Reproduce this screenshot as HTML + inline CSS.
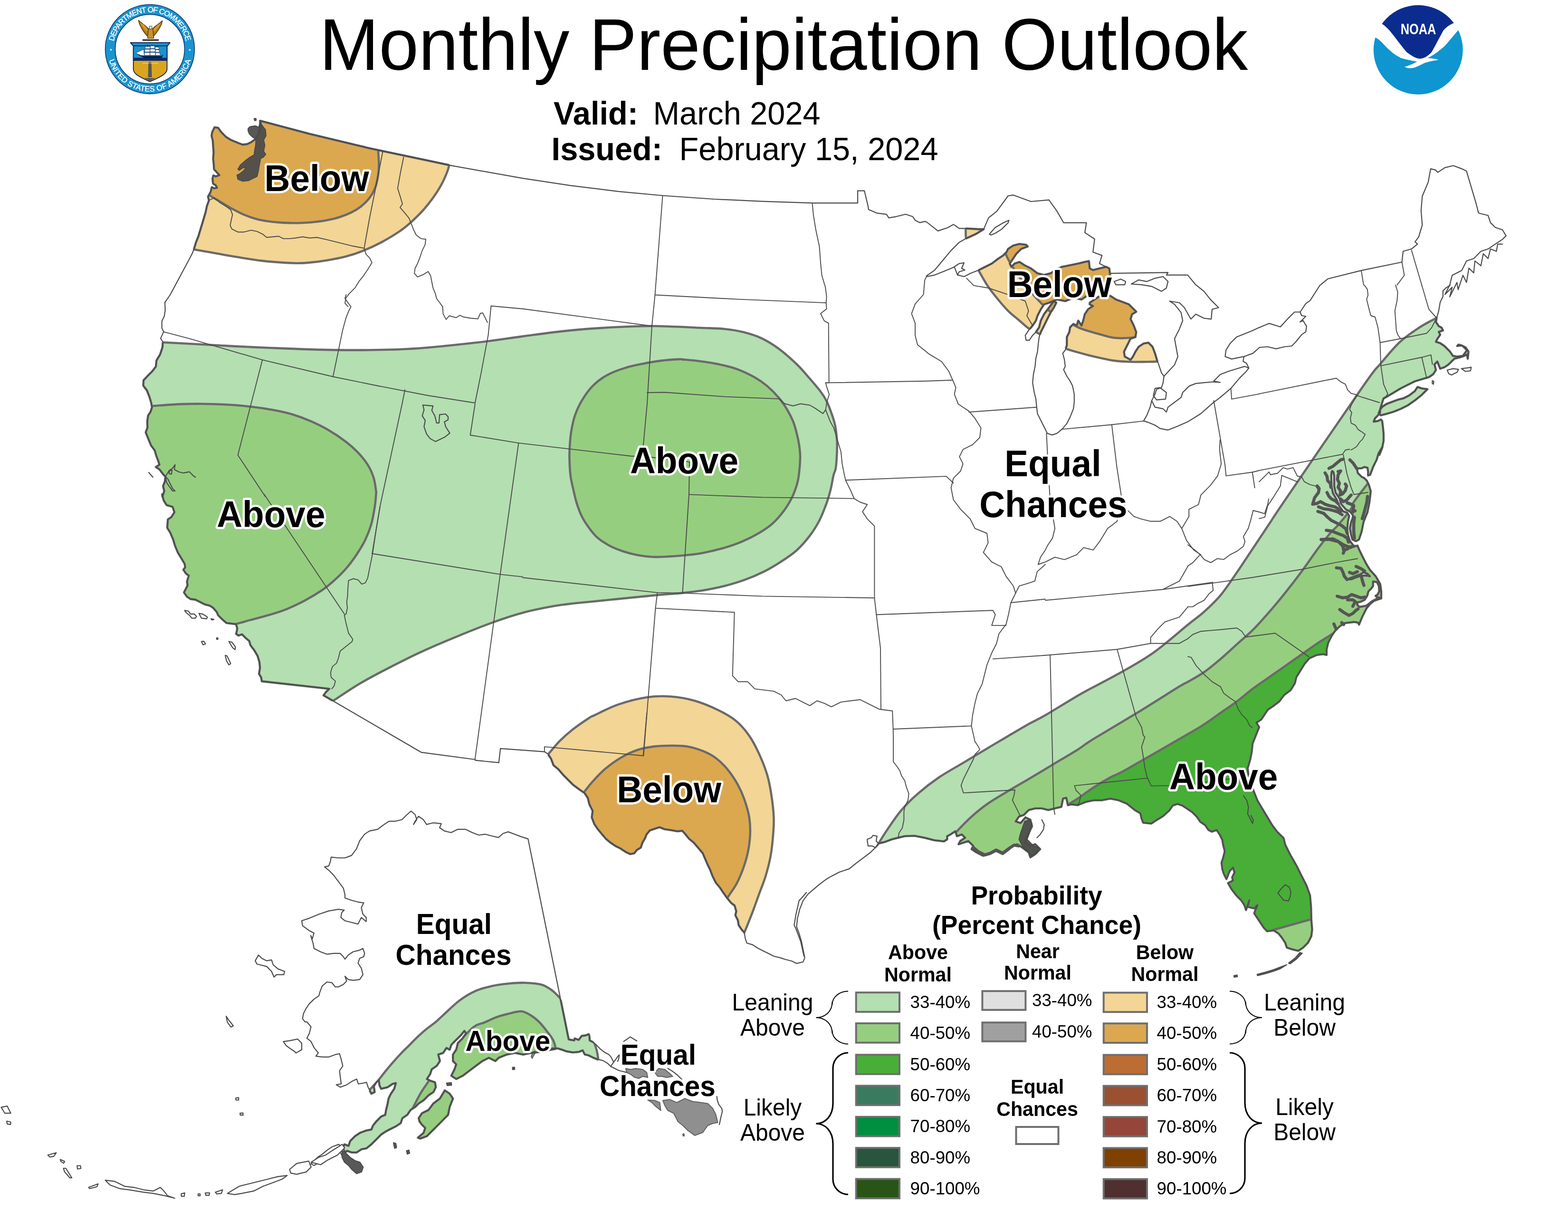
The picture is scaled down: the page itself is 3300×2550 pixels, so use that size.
<!DOCTYPE html>
<html lang="en"><head><meta charset="utf-8"><title>Monthly Precipitation Outlook</title>
<style>html,body{margin:0;padding:0;background:#fff}body{width:3300px;height:2550px;overflow:hidden}svg{display:block}text{font-family:"Liberation Sans",Arial,Helvetica,sans-serif;fill:#000}.lbl{font-weight:bold}.halo{font-weight:bold;fill:#fff;stroke:#fff;stroke-width:9;stroke-linejoin:round}.st{fill:none;stroke:#4a4a4a;stroke-width:1.9;stroke-linejoin:round;stroke-linecap:round}.ct{fill:none;stroke:#4a4a4a;stroke-width:2.2;stroke-linejoin:round;stroke-linecap:round}.isl{fill:#fff;stroke:#4a4a4a;stroke-width:2.2;stroke-linejoin:round}.dk{fill:#4a4a4a;fill-opacity:.92;stroke:#4a4a4a;stroke-width:2;stroke-linejoin:round}.rg{fill:none;stroke:#6a6a6a;stroke-width:4.6;stroke-linejoin:round}.sw{stroke:#6e6e6e;stroke-width:4}.wt{fill:#fff;stroke:#555;stroke-width:4.5;stroke-linejoin:round}.dkl{fill:none;stroke:#555;stroke-width:6.5;stroke-linejoin:round;stroke-linecap:round}</style></head><body>
<svg xmlns="http://www.w3.org/2000/svg" width="3300" height="2550" viewBox="0 0 3300 2550">
<defs>
<filter id="sh" x="-10%" y="-30%" width="120%" height="160%"><feDropShadow dx="1.5" dy="2" stdDeviation="1.6" flood-color="#000" flood-opacity="0.3"/></filter>
<clipPath id="land"><path d="M547.3,254 548.6,265.3 543.5,283 537.2,293 528.4,299.3 520.4,303.1 510.8,304.4 500.7,300.6 485.6,294.3 475.5,288 465.5,277.9 459.2,269.1 451.6,267.8 446.6,277.9 445.3,286 447.8,295.5 448.6,308.1 449.6,320.7 448.6,333.3 449.9,345.9 450.4,356 456.7,363 461.7,368.6 454.1,371.1 449.1,369.1 447.3,376.1 448.4,386.2 454.1,390 456.7,395 450.4,396.3 445.8,393.8 443.3,403.8 437.8,413.9 439.8,421.5 435.3,434.1 432.7,446.6 429,459.2 425.2,471.8 421.4,484.4 417.6,497 412.6,509.6 408.8,522.2 405,532.3 401.3,539.8 358.3,620 347,636.4 347.7,652.7 345.7,665.3 340.7,675.4 340.7,690.5 344.4,698.1 338.1,711.9 342.7,719.5 341.9,730.8 336.9,745.9 329.3,758.5 328.1,771.1 320.5,781.2 310.4,791.2 302.1,800.1 301.6,811.4 309.2,821.5 314.2,834.1 318,846.6 320,856.7 316.7,866.8 311.7,874.3 309.9,886.9 310.4,899.5 306.7,909.6 311.7,922.2 318,937.3 325.5,947.4 329.3,960 333.1,970 335.6,977.6 328.1,982.6 335.6,987.7 343.2,997.7 348.2,1002.8 347,1012.9 343.2,1022.9 345.7,1033 341.9,1045.1 341.2,1040 344.4,1052.6 350.7,1062.7 363.3,1066.4 367.1,1077.8 360.8,1087.8 353.3,1092.9 352,1110.5 358.3,1120.6 364.6,1135.7 368.4,1148.3 374.7,1163.4 381,1173.5 388.5,1186.1 389.8,1193.6 386,1198.7 391,1206.2 397.3,1211.2 393.5,1223.8 394.8,1231.4 389.8,1241.5 387.2,1246.5 393.5,1255.3 401.1,1260.4 411.2,1261.6 421.2,1266.6 431.3,1271.7 441.4,1274.2 448.9,1279.2 456.5,1288.1 459,1294.3 466.6,1301.9 476.6,1310.7 486.7,1312 496.8,1313.2 499.3,1322.1 498.1,1329.6 496.8,1333.4 501.8,1337.2 509.4,1334.6 516.9,1342.2 524.5,1348.5 527,1357.3 534.6,1367.4 542.1,1380 545.9,1392.6 547.2,1405.2 545.1,1417.7 549.7,1425.3 550.9,1433.4 693.2,1449.2 686,1456 681,1463 886.4,1582.8 1000,1598 1000,1599.6 1049.8,1604.7 1053.2,1574.9 1145.9,1581.7 1152.8,1585.9 1159.7,1596.2 1164.8,1609.9 1175.1,1618.5 1185.4,1630.5 1195.7,1640.8 1206,1651.1 1219.8,1661.4 1230.1,1668.3 1237,1678.6 1240.4,1692.3 1247.3,1706 1245.5,1719.8 1250.7,1733.5 1257.6,1743.8 1266.1,1754.1 1274.7,1764.4 1285,1773 1295.3,1779.9 1305.6,1785 1315.9,1791.9 1326.2,1797 1334.8,1795.3 1340,1788.5 1348.6,1783.3 1352,1773 1357.1,1764.4 1360.6,1755.8 1367.4,1747.3 1377.7,1743.8 1388,1740.4 1398.4,1744.5 1412.1,1746.6 1425.8,1749 1436.1,1747.9 1443,1755.8 1449.9,1764.4 1460.2,1773 1470.5,1785 1479.1,1795.3 1484.2,1807.3 1489.4,1819.4 1494.5,1829.7 1499.7,1843.4 1506.5,1857.1 1515.1,1867.4 1522,1877.7 1530.6,1889.8 1539.1,1900.1 1546,1905.2 1549.5,1917.2 1547.7,1925.8 1552.9,1936.1 1554.6,1946.4 1561.5,1956.7 1566.6,1961.9 1568.3,1973.9 1571.8,1984.2 1583.8,1987.6 1594.1,1994.5 1604.4,1999.7 1618.1,2006.5 1628.4,2011.7 1642.2,2015.1 1652.5,2018.5 1666.2,2022 1676.5,2027.1 1690.2,2023.7 1693.7,2015.1 1690.2,1997.9 1686.8,1980.8 1681.7,1963.6 1676.5,1949.9 1678.2,1932.7 1683.4,1912.1 1690.2,1894.9 1700.5,1881.2 1712.6,1870.9 1724.6,1860.6 1738.3,1850.3 1750,1843.4 1766.8,1834.7 1787.4,1827.9 1804.5,1814.1 1818.3,1803.8 1832,1793.5 1842.3,1783.2 1849.2,1774.6 1862.9,1771.2 1876.6,1766 1890.4,1762.6 1904.1,1759.2 1924.7,1758.5 1945.3,1762.6 1965.9,1767.8 1986.5,1770.2 1993.4,1766 1993.4,1759.2 2000.3,1755.7 2010.6,1748.9 2014,1759.2 2024.3,1755.7 2031.2,1762.6 2020.9,1769.5 2017.4,1776.3 2027.7,1772.9 2038,1769.5 2048.4,1779.8 2044.9,1786.6 2055.2,1793.5 2069,1800.4 2082.7,1797 2096.4,1790.1 2110.2,1797 2123.9,1786.6 2130.8,1779.8 2141.1,1776.3 2151.4,1783.2 2165.1,1793.5 2168.5,1803.8 2178.8,1797 2189.1,1786.6 2178.8,1776.3 2168.5,1779.8 2158.2,1772.9 2158.2,1766 2165.1,1752.3 2172,1738.6 2168.5,1724.8 2158.2,1719.7 2147.9,1731.7 2137.6,1728.3 2144.5,1718 2154.8,1714.5 2165.1,1704.2 2178.8,1700.8 2192.6,1700.8 2206.3,1704.2 2220.1,1700.8 2233.8,1697.4 2237.2,1680.2 2244.1,1678.5 2247.5,1693.9 2254.4,1692.2 2268.1,1693.9 2285.3,1687.1 2302.5,1683.6 2319.6,1683.6 2336.8,1680.2 2354,1683.6 2371.2,1690.5 2388.3,1704.2 2400,1711.1 2402.6,1722.3 2406,1730.9 2423.2,1732.6 2433.5,1725.7 2447.3,1717.2 2461,1705.1 2467.9,1694.8 2478.2,1691.4 2488.5,1694.8 2498.8,1701.7 2509.1,1708.6 2519.4,1718.9 2526.2,1729.2 2536.5,1736 2543.4,1746.3 2550.3,1749.8 2560.6,1746.3 2567.4,1756.6 2572.6,1767 2574.3,1777.3 2577.7,1791 2574.3,1804.7 2570.9,1815 2572.6,1828.8 2576,1839.1 2581.2,1849.4 2588,1832.2 2594.9,1825.3 2598.4,1835.6 2593.2,1845.9 2594.9,1852.8 2584.6,1858 2591.5,1870 2601.8,1883.7 2612.1,1894 2619,1904.3 2622.4,1914.6 2629.3,1894 2625.8,1907.7 2639.6,1911.2 2646.4,1904.3 2639.6,1921.5 2646.4,1931.8 2653.3,1942.1 2660.2,1952.4 2667,1959.3 2680.8,1957.5 2691.1,1964.4 2697.9,1973 2704.8,1983.3 2708.2,1993.6 2718.5,1997 2732.3,2000.5 2742.6,1993.6 2752.9,1983.3 2759.8,1969.6 2761.5,1955.8 2759.8,1935.2 2759.1,1907.7 2757,1883.7 2749.5,1863.1 2739.1,1842.5 2728.8,1821.9 2715.1,1797.9 2704.8,1777.3 2701.4,1763.5 2687.6,1749.8 2677.3,1736 2667,1718.9 2656.7,1701.7 2646.4,1684.5 2639.6,1667.4 2632.7,1650.2 2627.5,1633 2625.8,1615.9 2631,1598.7 2634.4,1581.5 2636.1,1564.3 2643,1547.2 2649.9,1530 2644.2,1520.5 2654.5,1513.6 2661.4,1503.3 2668.3,1493 2678.6,1486.1 2692.3,1475.8 2702.6,1462.1 2716.3,1451.8 2724.9,1438 2728.4,1424.3 2737,1410.6 2745.5,1396.8 2755.8,1384.8 2771.3,1378 2785,1376.2 2791.9,1378 2791.9,1365.9 2795.3,1352.2 2802.2,1338.5 2809.1,1328.2 2819.4,1317.9 2829.7,1311 2849.9,1308.6 2858.1,1309.9 2860.2,1314.1 2863.6,1305.8 2867.7,1296.2 2871.9,1288 2876,1279.7 2884.2,1270.1 2891.1,1264.6 2898,1261.9 2906.9,1259.1 2906.9,1244 2904.8,1228.9 2895.2,1212.4 2882.9,1198.7 2874.6,1184.9 2867.7,1171.2 2860.9,1157.5 2856.8,1147.9 2857.4,1148.8 2849.1,1148.8 2840.9,1137.8 2836.8,1125.4 2835.4,1111.7 2836.8,1098 2839.5,1085.6 2835.4,1078.7 2827.1,1076 2818.9,1065 2813.4,1051.3 2805.2,1037.5 2802.4,1022.4 2801.7,1001.8 2802.4,993.6 2803.8,990.8 2806.5,993.6 2807.9,1001.8 2807.9,1022.4 2810.7,1036.2 2818.9,1048.5 2823,1060.9 2832.6,1071.9 2840.9,1076 2847.7,1084.2 2846.4,1091.1 2843.6,1098 2840.9,1111.7 2843.6,1125.4 2846.4,1135.1 2851.9,1137.8 2853.9,1138.5 2860.1,1135.1 2865.6,1118.6 2869.7,1098 2878,1077.4 2882.1,1056.8 2884.8,1033.4 2880.7,1019.7 2876.6,1011.4 2871.1,1005.9 2865.6,1003.2 2860.1,997.7 2857.4,994.9 2856,986.7 2858.7,985.3 2865.6,985.3 2871.1,982.6 2878,984 2879.3,992.2 2879.3,1000.4 2883.5,999.1 2886.2,992.2 2890.3,981.2 2897.2,967.5 2901.3,953.7 2909.6,940 2903,957.1 2908.9,942.3 2911.9,927.4 2911.9,912.5 2910.4,897.6 2908.9,885.7 2906,882.7 2900,885.7 2891.1,887.2 2894,879.8 2900,873.8 2904.5,867.9 2904.5,861.9 2908.9,847 2911.9,838.1 2917.9,835.1 2932.7,826.2 2947.6,817.3 2962.5,809.8 2977.4,802.4 2992.3,797.9 3007.1,793.5 3016.1,787.5 3022,778.6 3019,766.7 3025,760.7 3031,775.6 3039.9,772.6 3048.8,766.7 3054.8,760.7 3060.7,754.8 3072.6,751.8 3081.5,748.8 3087.5,745.8 3089,754.8 3090.5,739.9 3084.5,731 3075.6,726.5 3066.7,728 3069.6,725 3078.6,728 3087.5,736.9 3078.6,748.8 3066.7,750.3 3057.7,748.8 3051.8,739.9 3045.8,733.9 3039.9,728 3031,722 3022,719 3025,713.1 3031,704.2 3028,698.2 3036.9,695.2 3033.9,689.3 3028,686.3 3022,677.4 3023.5,668.5 3025,664 3028,653.6 3031,635.7 3036.9,623.8 3036.9,611.9 3042.9,606 3051.8,600 3051.2,599.4 3056.2,579.2 3076.4,569.1 3086.4,549 3101.6,544 3116.7,528.8 3131.8,523.8 3146.9,513.7 3162,503.7 3169.6,496.1 3162,483.5 3146.9,478.5 3136.8,468.4 3131.8,453.3 3111.6,448.3 3106.6,428.1 3086.4,360.1 3076.4,355.1 3058.7,348.5 3041.1,352.6 3026,362.6 3021,357.6 3010.9,355.1 3005.9,382.8 2993.3,413 2990.8,443.2 2993.3,473.4 2985.7,498.6 2978.2,508.7 2983.2,513.7 2970.6,523.8 2953,528.8 2950.5,551.5 2864.8,569.1 2794.3,586.8 2779.2,599.4 2778,600 2757.1,632.7 2748.2,638.7 2736.3,656.5 2739.3,664 2748.2,665.5 2745.2,668.5 2736.3,677.4 2742.3,674.4 2749.7,686.3 2748.2,698.2 2739.3,704.2 2727.4,719 2718.5,728 2703.6,729.5 2685.7,733.9 2667.9,729.5 2650,731 2649.9,731.7 2636.8,743.4 2617.9,750.3 2616.2,760.6 2623.1,764 2628.2,774.3 2623.1,781.2 2609.3,794.9 2590.5,817.2 2568.1,836.1 2554.4,846.4 2526.9,870.5 2499.5,887.6 2475.4,897.9 2458.2,904.8 2441.1,901.4 2430.8,894.5 2413.6,887.6 2406.7,885.9 2413.6,873.9 2420.5,856.7 2423.9,843 2430.8,829.3 2434.2,819 2444.5,815.5 2447.9,805.2 2449.7,791.5 2444.5,784.6 2437.6,764 2435.9,760.6 2430.8,743.4 2425.6,729.7 2417,721.1 2406.7,722.8 2396.4,729.7 2389.6,740 2384.4,750.3 2379.3,757.1 2367.2,750.3 2365.5,740 2372.4,726.2 2379.3,712.5 2389.6,709.1 2391.3,698.8 2386.1,685 2379.3,671.3 2382.7,661 2391.3,655.8 2382.7,647.3 2375.8,640.4 2362.1,635.2 2348.4,630.1 2338,623.2 2327.7,619.8 2314,623.2 2303.7,630.1 2293.4,637 2293.4,640.4 2300.3,643.8 2290,650.7 2283.1,661 2279.7,674.7 2276.2,685 2269.4,674.7 2265.9,685 2259.1,681.6 2252.2,688.5 2250.5,698.8 2245.3,709.1 2245.3,726.2 2241.9,736.5 2236.7,743.4 2240.2,757.1 2241.9,770.9 2238.5,777.7 2245.3,791.5 2252.2,801.8 2257.3,812.1 2260.8,829.3 2260.8,846.4 2259.1,860.2 2252.2,877.3 2245.3,891.1 2235,903.1 2224.7,911.7 2214.4,915.1 2204.1,911.7 2197.3,897.9 2190.4,884.2 2183.5,870.5 2181.8,856.7 2180.1,839.6 2176.6,825.8 2173.2,805.2 2174.9,788 2178.4,770.9 2180.1,753.7 2183.5,740 2185.2,722.8 2187,709.1 2190.4,698.8 2197.3,685 2204.1,671.3 2211,657.6 2217.9,647.3 2223,637 2217.9,633.5 2207.6,647.3 2197.3,661 2190.4,674.7 2187,688.5 2180.1,698.8 2173.2,705.6 2166.3,715.9 2159.5,715.9 2157.8,705.6 2164.6,695.3 2173.2,685 2180.1,674.7 2183.5,664.4 2190.4,650.7 2197.3,640.4 2207.6,637 2224.7,630.1 2241.9,633.5 2259.1,626.6 2276.2,630.1 2286.5,623.2 2300.3,612.9 2314,602.6 2327.7,592.3 2336.3,578.6 2334.6,564.8 2327.7,561.4 2314,564.8 2300.3,568.3 2293.4,564.8 2291.7,549.4 2283.1,551.1 2269.4,554.5 2252.2,558 2235,561.4 2221.3,568.3 2211,575.1 2197.3,578.6 2183.5,575.1 2169.8,564.8 2156,558 2145.7,551.1 2135.4,554.5 2128.6,561.4 2125.1,554.5 2132,544.2 2138.9,533.9 2149.2,523.6 2162.9,518.5 2159.5,515 2145.7,513.3 2132,516.8 2121.7,523.6 2118.3,530.5 2111.4,537.4 2101.1,544.2 2087.4,554.5 2073.6,561.4 2059.9,568.3 2042.7,575.1 2029,582 2015.2,578.6 2008.4,561.4 2001.5,564.8 1984.3,571.7 1967.2,578.6 1950,582 1950,580.3 1967.2,568.3 1984.3,547.7 2001.5,527.1 2018.7,509.9 2034.1,501.3 2053,492.7 2070.2,482.4 2063.3,482.4 2034.1,480.7 2018.7,480.7 2006.7,472.1 1994.6,479 1974,485.9 1950,467 1946.2,465.9 1936.1,468.4 1926,463.4 1921,455.8 1905.9,450.8 1885.7,455.8 1870.6,458.3 1865.6,450.8 1845.4,448.3 1827.8,440.7 1826.8,433.2 1819.2,401.4 1805.1,401.4 1805.1,427.1 1709.4,427.1 1603.7,423.6 1502.9,419 1394.6,411.5 1301.5,402.9 1200.7,390.3 1100,375.2 950,348.4 903.7,338.4 777.7,311.9 651.8,281.7 547.3,254ZM2906,873.8 2917.9,870.8 2932.7,866.4 2947.6,860.4 2962.5,853 2977.4,842.6 2992.3,830.7 3004.2,818.8 2992.3,817.3 2983.3,814.3 2977.4,823.2 2965.5,832.1 2953.6,838.1 2941.7,841.1 2929.8,845.5 2917.9,850 2908.9,856 2904.5,861.9 2901.5,869.3Z" clip-rule="evenodd"/></clipPath>
<path id="r_nw_out" d="M384.9,520.9C388.7,521.6 396.6,522.8 407.6,524.7C418.5,526.6 434.8,529.5 450.4,532.3C465.9,535.0 483.9,538.4 500.7,541.1C517.5,543.8 534.3,546.7 551.1,548.6C567.9,550.6 588.9,552.1 601.5,552.9C614.1,553.8 618.3,553.8 626.6,553.7C635.0,553.6 641.3,553.5 651.8,552.4C662.3,551.4 677.0,549.5 689.6,547.4C702.2,545.3 714.8,543.2 727.4,539.8C740.0,536.5 752.6,532.3 765.2,527.2C777.7,522.2 790.3,516.3 802.9,509.6C815.5,502.9 830.2,494.1 840.7,486.9C851.2,479.8 857.5,474.3 865.9,466.8C874.3,459.2 883.5,450.0 891.1,441.6C898.6,433.2 904.9,425.2 911.2,416.4C917.5,407.6 923.8,398.0 928.8,388.7C933.9,379.5 938.7,368.0 941.4,361.0C944.2,354.1 944.2,351.8 945.2,347.2C946.3,342.6 947.3,335.6 947.7,333.3L949.0,220.0 374.8,220.0Z"/>
<clipPath id="c_nw_out"><use href="#r_nw_out"/></clipPath>
<path id="r_nw_in" d="M425.2,400.1C427.9,401.9 435.3,407.4 441.6,411.4C447.8,415.4 455.2,419.4 463.0,424.0C470.7,428.6 479.7,434.5 488.1,439.1C496.5,443.7 504.9,448.1 513.3,451.7C521.7,455.3 530.1,458.2 538.5,460.5C546.9,462.8 555.3,464.3 563.7,465.5C572.1,466.8 580.5,467.4 588.9,468.1C597.3,468.7 605.7,469.2 614.1,469.3C622.5,469.4 630.8,469.2 639.2,468.8C647.6,468.4 656.0,467.8 664.4,466.8C672.8,465.8 681.2,464.7 689.6,463.0C698.0,461.3 706.4,459.4 714.8,456.7C723.2,454.0 732.4,450.4 740.0,446.6C747.5,442.9 753.8,439.1 760.1,434.1C766.4,429.0 772.9,422.7 777.7,416.4C782.6,410.1 786.1,403.8 789.1,396.3C792.0,388.7 794.0,379.5 795.4,371.1C796.8,362.7 797.3,354.7 797.4,345.9C797.5,337.1 796.4,325.3 795.9,318.2C795.3,311.1 794.4,305.6 794.1,303.1L792.9,220.0 374.8,220.0Z"/>
<clipPath id="c_nw_in"><use href="#r_nw_in"/></clipPath>
<path id="r_w_out" d="M282.1,718.2C292.1,718.6 313.9,718.9 342.5,720.2C371.0,721.6 418.0,724.4 453.3,726.3C488.6,728.1 512.1,729.6 554.0,731.3C596.0,733.0 654.8,735.9 705.1,736.4C755.5,736.9 805.9,737.0 856.2,734.3C906.6,731.7 966.7,724.7 1007.3,720.2C1048.0,715.8 1067.8,711.8 1100.0,707.6C1132.2,703.4 1167.2,698.3 1200.7,695.1C1234.3,691.8 1272.1,689.5 1301.5,688.0C1330.8,686.5 1348.0,685.7 1377.0,686.0C1406.0,686.3 1450.7,688.7 1475.5,689.7C1500.4,690.7 1511.2,690.7 1525.9,692.2C1540.6,693.7 1551.1,695.4 1563.7,698.5C1576.3,701.7 1588.9,705.2 1601.5,711.1C1614.1,717.0 1626.6,724.5 1639.2,733.8C1651.8,743.0 1666.5,756.4 1677.0,766.5C1687.5,776.6 1693.8,784.5 1702.2,794.2C1710.6,803.9 1721.1,816.0 1727.4,824.4C1733.7,832.8 1736.2,837.0 1740.0,844.6C1743.8,852.1 1747.1,861.4 1750.0,869.8C1753.0,878.1 1755.7,885.7 1757.6,894.9C1759.5,904.2 1760.7,915.5 1761.4,925.2C1762.0,934.8 1761.8,942.9 1761.4,952.9C1761.0,962.8 1760.1,977.2 1758.9,985.1C1757.7,992.9 1755.9,992.6 1754.2,1000.0C1752.4,1007.4 1750.7,1019.8 1748.2,1029.8C1745.7,1039.7 1743.3,1048.6 1739.3,1059.5C1735.3,1070.4 1730.4,1083.8 1724.4,1095.2C1718.5,1106.6 1711.5,1117.6 1703.6,1128.0C1695.6,1138.4 1686.7,1148.8 1676.8,1157.7C1666.9,1166.7 1655.5,1174.1 1644.0,1181.5C1632.6,1189.0 1621.2,1195.9 1608.3,1202.4C1595.4,1208.8 1581.1,1215.0 1566.7,1220.2C1552.3,1225.4 1536.9,1229.9 1522.0,1233.6C1507.1,1237.4 1491.8,1240.2 1477.4,1242.6C1463.0,1244.9 1450.6,1246.1 1435.7,1247.6C1420.8,1249.1 1406.0,1249.9 1388.1,1251.5C1370.2,1253.1 1348.4,1255.5 1328.6,1257.4C1308.7,1259.4 1288.9,1261.4 1269.0,1263.4C1249.2,1265.4 1226.9,1267.4 1209.5,1269.3C1192.2,1271.3 1183.1,1272.0 1164.9,1275.3C1146.6,1278.6 1121.2,1283.5 1100.0,1289.2C1078.8,1294.9 1061.4,1300.7 1037.5,1309.3C1013.7,1318.0 983.0,1330.3 957.0,1341.1C930.9,1351.8 906.6,1362.1 881.4,1373.8C856.2,1385.6 826.8,1400.7 805.9,1411.6C784.9,1422.5 772.7,1429.0 755.5,1439.3C738.3,1449.6 719.4,1462.6 702.6,1473.5C685.8,1484.4 662.7,1499.6 654.8,1504.8L251.8,1504.8 151.1,850.0Z"/>
<clipPath id="c_w_out"><use href="#r_w_out"/></clipPath>
<path id="r_w_in" d="M287.8,856.7C293.1,856.3 305.3,855.3 320.0,854.2C334.7,853.2 358.2,851.2 375.9,850.4C393.6,849.7 409.5,849.5 426.3,849.7C443.1,849.8 459.9,850.2 476.6,851.2C493.4,852.1 510.2,853.5 527.0,855.5C543.8,857.4 562.7,860.3 577.4,863.0C592.1,865.7 602.6,868.1 615.2,871.8C627.7,875.6 640.3,880.2 652.9,885.7C665.5,891.1 678.1,897.2 690.7,904.6C703.3,911.9 718.0,921.8 728.5,929.8C739.0,937.7 746.1,944.4 753.7,952.4C761.2,960.4 768.4,968.8 773.8,977.6C779.3,986.4 783.5,996.1 786.4,1005.3C789.3,1014.5 790.6,1027.2 791.4,1033.0C792.3,1038.8 791.9,1034.6 791.4,1040.0C791.0,1045.4 790.6,1054.7 788.9,1065.2C787.2,1075.7 784.7,1091.2 781.4,1103.0C778.0,1114.7 773.8,1125.2 768.8,1135.7C763.7,1146.2 757.9,1155.8 751.1,1165.9C744.4,1176.0 736.5,1186.9 728.5,1196.1C720.5,1205.4 711.7,1213.8 703.3,1221.3C694.9,1228.9 688.6,1234.3 678.1,1241.5C667.6,1248.6 652.9,1257.4 640.3,1264.1C627.7,1270.8 615.2,1276.7 602.6,1281.8C590.0,1286.8 577.4,1290.6 564.8,1294.3C552.2,1298.1 538.1,1301.4 527.0,1304.4C515.9,1307.4 508.5,1309.8 498.1,1312.5C487.6,1315.2 469.7,1319.4 464.1,1320.8L250.0,1320.8 250.0,856.7Z"/>
<clipPath id="c_w_in"><use href="#r_w_in"/></clipPath>
<path id="r_c_in" d="M1224.9,842.1C1231.2,831.6 1238.7,820.6 1247.5,811.8C1256.3,803.0 1266.4,795.5 1277.7,789.2C1289.1,782.9 1302.9,778.0 1315.5,774.1C1328.1,770.1 1340.7,767.8 1353.3,765.2C1365.9,762.7 1378.5,760.5 1391.1,758.9C1403.7,757.4 1421.1,756.3 1428.8,755.9C1436.6,755.5 1430.0,755.7 1437.8,756.4C1445.6,757.1 1463.0,758.5 1475.5,760.2C1488.1,761.9 1500.7,763.8 1513.3,766.5C1525.9,769.2 1538.5,772.0 1551.1,776.6C1563.7,781.2 1578.4,788.3 1588.9,794.2C1599.4,800.1 1605.7,804.7 1614.1,811.8C1622.5,819.0 1632.1,828.6 1639.2,837.0C1646.4,845.4 1651.8,853.8 1656.9,862.2C1661.9,870.6 1666.1,879.0 1669.5,887.4C1672.8,895.8 1674.9,904.2 1677.0,912.6C1679.1,921.0 1680.9,929.4 1682.1,937.7C1683.2,946.1 1684.2,952.6 1684.1,962.9C1683.9,973.3 1682.5,990.3 1681.2,1000.0C1680.0,1009.7 1679.3,1012.9 1676.8,1020.8C1674.3,1028.8 1670.8,1038.7 1666.4,1047.6C1661.9,1056.5 1656.7,1065.5 1650.0,1074.4C1643.3,1083.3 1635.1,1093.3 1626.2,1101.2C1617.3,1109.1 1607.3,1115.6 1596.4,1122.0C1585.5,1128.5 1573.1,1134.7 1560.7,1139.9C1548.3,1145.1 1535.9,1149.3 1522.0,1153.3C1508.1,1157.2 1490.8,1161.2 1477.4,1163.7C1464.0,1166.2 1454.1,1166.9 1441.7,1168.2C1429.3,1169.4 1414.4,1170.5 1403.0,1171.1C1391.6,1171.7 1383.1,1172.2 1373.2,1171.7C1363.3,1171.2 1353.4,1170.0 1343.5,1168.2C1333.5,1166.3 1323.6,1163.9 1313.7,1160.7C1303.8,1157.5 1293.4,1153.8 1283.9,1148.8C1274.5,1143.8 1264.6,1137.4 1257.1,1131.0C1249.7,1124.5 1244.7,1117.6 1239.3,1110.1C1233.8,1102.7 1228.6,1094.7 1224.4,1086.3C1220.2,1077.9 1217.0,1068.9 1214.0,1059.5C1211.0,1050.1 1208.8,1039.7 1206.5,1029.8C1204.3,1019.8 1201.9,1011.1 1200.6,1000.0C1199.2,988.9 1198.7,973.3 1198.4,962.9C1198.2,952.6 1198.5,947.0 1199.2,937.7C1199.8,928.5 1200.4,918.0 1202.2,907.5C1204.0,897.0 1206.0,885.7 1209.8,874.8C1213.5,863.9 1218.6,852.5 1224.9,842.1Z"/>
<clipPath id="c_c_in"><use href="#r_c_in"/></clipPath>
<path id="r_tx_out" d="M1130.5,1613.3C1134.5,1608.7 1146.5,1595.0 1154.5,1585.9C1162.5,1576.7 1170.0,1567.0 1178.6,1558.4C1187.2,1549.8 1195.7,1542.4 1206.0,1534.3C1216.3,1526.3 1232.9,1515.2 1240.4,1510.3C1247.9,1505.4 1240.9,1509.5 1251.1,1504.8C1261.3,1500.1 1283.0,1488.4 1301.5,1482.1C1319.9,1475.8 1343.4,1469.8 1361.9,1467.0C1380.4,1464.2 1395.5,1464.2 1412.3,1465.5C1429.1,1466.7 1445.8,1469.7 1462.6,1474.5C1479.4,1479.4 1498.5,1487.6 1513.0,1494.7C1527.5,1501.8 1538.8,1508.3 1549.5,1517.2C1560.1,1526.1 1568.9,1536.6 1576.9,1548.1C1584.9,1559.5 1591.2,1572.1 1597.5,1585.9C1603.8,1599.6 1610.4,1616.2 1614.7,1630.5C1619.0,1644.8 1621.0,1656.8 1623.3,1671.7C1625.6,1686.6 1627.9,1704.9 1628.4,1719.8C1629.0,1734.7 1627.9,1747.3 1626.7,1761.0C1625.6,1774.7 1624.1,1788.5 1621.6,1802.2C1619.0,1815.9 1615.3,1830.2 1611.3,1843.4C1607.3,1856.6 1602.1,1868.6 1597.5,1881.2C1592.9,1893.8 1588.9,1905.5 1583.8,1919.0C1578.6,1932.4 1572.3,1948.7 1566.6,1961.9C1560.9,1975.0 1552.3,1991.9 1549.5,1997.9L1103.0,1997.9Z"/>
<clipPath id="c_tx_out"><use href="#r_tx_out"/></clipPath>
<path id="r_tx_in" d="M1212.9,1688.9C1215.7,1685.2 1223.7,1674.0 1229.4,1666.6C1235.1,1659.1 1239.7,1652.5 1247.3,1644.2C1254.8,1635.9 1264.4,1625.3 1274.7,1616.8C1285.0,1608.2 1297.6,1599.3 1309.1,1592.7C1320.5,1586.1 1332.0,1581.0 1343.4,1577.3C1354.9,1573.5 1366.3,1571.8 1377.7,1570.4C1389.2,1569.0 1400.6,1568.7 1412.1,1568.7C1423.5,1568.7 1435.0,1568.4 1446.4,1570.4C1457.9,1572.4 1470.5,1576.4 1480.8,1580.7C1491.1,1585.0 1499.7,1589.6 1508.2,1596.2C1516.8,1602.7 1524.8,1611.0 1532.3,1620.2C1539.7,1629.3 1547.2,1640.8 1552.9,1651.1C1558.6,1661.4 1562.6,1670.6 1566.6,1682.0C1570.6,1693.5 1574.9,1707.2 1576.9,1719.8C1578.9,1732.4 1579.2,1745.0 1578.6,1757.6C1578.1,1770.1 1576.1,1783.3 1573.5,1795.3C1570.9,1807.3 1567.2,1818.8 1563.2,1829.7C1559.2,1840.5 1554.9,1850.6 1549.5,1860.6C1544.0,1870.6 1536.3,1880.0 1530.6,1889.8C1524.8,1899.5 1517.7,1914.1 1515.1,1919.0L1171.7,1919.0Z"/>
<clipPath id="c_tx_in"><use href="#r_tx_in"/></clipPath>
<path id="r_se_out" d="M1828.6,1814.1C1832.0,1807.5 1842.3,1786.6 1849.2,1774.6C1856.0,1762.6 1861.8,1753.7 1869.8,1742.0C1877.8,1730.3 1887.0,1716.2 1897.3,1704.2C1907.6,1692.2 1918.4,1681.3 1931.6,1669.9C1944.8,1658.4 1960.2,1646.4 1976.2,1635.5C1992.3,1624.7 2010.6,1614.9 2027.7,1604.6C2044.9,1594.3 2057.6,1586.6 2079.3,1573.7C2100.9,1560.9 2137.6,1538.9 2157.7,1527.4C2177.8,1515.9 2180.4,1516.1 2200.0,1504.8C2219.6,1493.4 2250.4,1473.7 2275.5,1459.4C2300.7,1445.2 2325.9,1433.4 2351.1,1419.1C2376.3,1404.9 2401.8,1391.3 2426.6,1373.8C2451.5,1356.4 2482.1,1328.9 2500.0,1314.4C2517.9,1299.9 2522.9,1297.3 2534.3,1287.0C2545.8,1276.6 2557.2,1266.3 2568.7,1252.6C2580.1,1238.9 2591.6,1221.1 2603.0,1204.5C2614.5,1187.9 2625.9,1170.2 2637.4,1153.0C2648.8,1135.9 2660.3,1118.7 2671.7,1101.5C2683.2,1084.3 2673.0,1098.4 2706.0,1050.0C2739.1,1001.6 2836.7,858.3 2869.9,810.9C2903.1,763.5 2892.5,780.7 2905.1,765.6C2917.7,750.5 2932.0,732.8 2945.4,720.2C2958.9,707.6 2973.1,698.4 2985.7,690.0C2998.3,681.6 3009.2,676.6 3021.0,669.9C3032.7,663.2 3050.4,653.1 3056.2,649.7L3400.0,650.0 3400.0,2700.0 1750.0,2700.0Z"/>
<clipPath id="c_se_out"><use href="#r_se_out"/></clipPath>
<path id="r_se_mid" d="M1986.5,1779.8C1991.1,1774.6 2004.3,1759.2 2014.0,1748.9C2023.7,1738.6 2034.0,1727.7 2044.9,1718.0C2055.8,1708.2 2066.1,1699.7 2079.3,1690.5C2092.4,1681.3 2109.6,1671.6 2123.9,1663.0C2138.2,1654.4 2149.7,1648.1 2165.1,1639.0C2180.6,1629.8 2199.5,1618.4 2216.6,1608.1C2233.8,1597.8 2254.1,1586.0 2268.1,1577.2C2282.2,1568.3 2278.5,1568.9 2300.7,1555.1C2323.0,1541.4 2371.2,1513.2 2401.5,1494.7C2431.7,1476.2 2465.6,1454.3 2482.1,1444.3C2498.5,1434.3 2491.3,1439.7 2500.0,1434.6C2508.7,1429.6 2522.9,1422.0 2534.3,1414.0C2545.8,1406.0 2557.2,1396.3 2568.7,1386.5C2580.1,1376.8 2591.6,1365.9 2603.0,1355.6C2614.5,1345.3 2625.9,1336.2 2637.4,1324.7C2648.8,1313.3 2660.3,1300.1 2671.7,1287.0C2683.2,1273.8 2694.6,1260.1 2706.0,1245.7C2717.5,1231.4 2728.9,1216.6 2740.4,1201.1C2751.8,1185.6 2764.4,1166.8 2774.7,1153.0C2785.0,1139.3 2795.3,1126.7 2802.2,1118.7C2809.1,1110.7 2809.1,1113.0 2815.9,1104.9C2822.8,1096.9 2838.1,1078.4 2843.4,1070.6C2848.8,1062.8 2842.7,1066.1 2848.0,1058.0C2853.3,1049.9 2865.5,1034.2 2875.0,1022.0C2884.5,1009.8 2900.0,991.2 2905.0,985.0L3400.0,985.0 3400.0,2700.0 1950.0,2700.0Z"/>
<clipPath id="c_se_mid"><use href="#r_se_mid"/></clipPath>
<path id="r_se_in" d="M2226.9,1711.1C2230.6,1708.0 2242.4,1697.4 2249.2,1692.2C2256.1,1687.1 2259.3,1686.2 2268.1,1680.2C2277.0,1674.2 2291.0,1663.6 2302.5,1656.2C2313.9,1648.7 2325.4,1641.8 2336.8,1635.5C2348.3,1629.3 2344.0,1633.6 2371.2,1618.4C2398.4,1603.2 2472.8,1560.3 2500.0,1544.5C2527.2,1528.8 2522.9,1531.3 2534.3,1523.9C2545.8,1516.5 2557.2,1507.9 2568.7,1499.9C2580.1,1491.8 2591.6,1484.4 2603.0,1475.8C2614.5,1467.2 2625.9,1456.9 2637.4,1448.4C2648.8,1439.8 2660.3,1432.3 2671.7,1424.3C2683.2,1416.3 2694.6,1408.3 2706.0,1400.3C2717.5,1392.3 2728.9,1384.2 2740.4,1376.2C2751.8,1368.2 2764.4,1359.1 2774.7,1352.2C2785.0,1345.3 2793.0,1341.3 2802.2,1335.0C2811.4,1328.7 2825.1,1317.9 2829.7,1314.4L3400.0,1300.0 2921.2,1890.6 2758.0,1934.5 2682.5,1955.8 2612.1,1976.4 2200.0,1976.4Z"/>
<clipPath id="c_se_in"><use href="#r_se_in"/></clipPath>
<path id="r_mi_out" d="M2033.1,451.5C2033.1,460.1 2031.5,488.7 2033.1,503.0C2034.7,517.3 2038.4,526.5 2042.7,537.4C2047.1,548.2 2053.5,558.0 2059.2,568.3C2064.9,578.6 2070.7,589.4 2077.1,599.2C2083.5,608.9 2090.2,617.5 2097.7,626.6C2105.1,635.8 2113.7,646.1 2121.7,654.1C2129.7,662.1 2138.3,668.4 2145.7,674.7C2153.2,681.0 2159.5,687.3 2166.3,691.9C2173.2,696.5 2178.9,697.6 2187.0,702.2C2195.0,706.8 2205.3,714.2 2214.4,719.4C2223.6,724.5 2231.6,729.1 2241.9,733.1C2252.2,737.1 2264.8,740.3 2276.2,743.4C2287.7,746.6 2299.1,749.4 2310.6,752.0C2322.0,754.6 2333.5,757.3 2344.9,758.9C2356.4,760.4 2367.8,760.9 2379.3,761.3C2390.7,761.7 2404.2,761.4 2413.6,761.3C2423.0,761.1 2427.3,761.0 2435.9,760.6C2444.5,760.2 2460.2,759.1 2465.1,758.9L2465.1,451.5Z"/>
<clipPath id="c_mi_out"><use href="#r_mi_out"/></clipPath>
<path id="r_mi_in" d="M2111.4,516.8C2112.4,519.9 2114.7,529.3 2117.2,535.6C2119.8,541.9 2122.7,547.4 2126.9,554.5C2131.0,561.7 2136.3,570.0 2142.3,578.6C2148.3,587.2 2154.9,596.3 2162.9,606.0C2170.9,615.8 2180.7,627.2 2190.4,637.0C2200.1,646.7 2210.4,657.0 2221.3,664.4C2232.2,671.9 2246.5,677.0 2255.6,681.6C2264.8,686.2 2267.1,688.5 2276.2,691.9C2285.4,695.3 2299.1,699.0 2310.6,702.2C2322.0,705.3 2333.5,709.4 2344.9,710.8C2356.4,712.2 2371.2,711.4 2379.3,710.8C2387.3,710.2 2387.3,709.4 2393.0,707.3C2398.7,705.3 2410.2,700.2 2413.6,698.8L2413.6,503.0 2111.4,503.0Z"/>
<clipPath id="c_mi_in"><use href="#r_mi_in"/></clipPath>
<path id="r_ak_out" d="M761.0,2459.1C757.6,2455.6 746.4,2444.2 740.4,2438.5C734.4,2432.7 728.4,2429.9 724.9,2424.7C721.5,2419.6 719.5,2415.0 719.8,2407.6C720.1,2400.1 722.1,2392.1 726.6,2380.1C731.2,2368.1 739.8,2348.6 747.3,2335.4C754.7,2322.3 763.0,2311.7 771.3,2301.1C779.6,2290.5 790.8,2279.3 797.0,2271.9C803.3,2264.5 804.2,2262.5 809.1,2256.5C813.9,2250.4 820.5,2242.4 826.2,2235.9C832.0,2229.3 837.7,2223.0 843.4,2217.0C849.1,2211.0 854.9,2205.5 860.6,2199.8C866.3,2194.1 872.0,2188.1 877.7,2182.6C883.5,2177.2 888.3,2172.6 894.9,2167.2C901.5,2161.7 911.0,2155.1 917.2,2150.0C923.4,2144.9 923.9,2143.8 932.1,2136.4C940.3,2129.0 955.0,2114.1 966.4,2105.5C977.9,2096.9 989.3,2090.1 1000.8,2084.9C1012.2,2079.8 1023.7,2077.2 1035.1,2074.6C1046.6,2072.0 1058.0,2070.6 1069.5,2069.5C1080.9,2068.3 1092.3,2067.5 1103.8,2067.7C1115.2,2068.0 1129.0,2068.9 1138.1,2071.2C1147.3,2073.5 1153.0,2077.8 1158.7,2081.5C1164.5,2085.2 1166.7,2087.8 1172.5,2093.5C1178.2,2099.2 1185.6,2107.5 1193.1,2115.8C1200.5,2124.1 1209.7,2134.1 1217.1,2143.3C1224.6,2152.5 1232.1,2162.3 1237.7,2170.8C1243.3,2179.3 1247.6,2187.7 1250.6,2194.2C1253.6,2200.8 1254.5,2204.4 1255.9,2210.0C1257.3,2215.7 1258.3,2221.6 1259.0,2227.9C1259.7,2234.3 1259.9,2244.6 1260.1,2247.9L1260.0,2520.0 700.0,2520.0Z"/>
<clipPath id="c_ak_out"><use href="#r_ak_out"/></clipPath>
<path id="r_ak_in" d="M843.4,2411.0C845.7,2400.7 852.9,2362.6 857.1,2349.2C861.4,2335.7 864.6,2338.3 869.2,2330.3C873.7,2322.3 879.2,2310.3 884.6,2301.1C890.1,2291.9 894.3,2286.2 901.8,2275.3C909.2,2264.5 919.0,2249.3 929.3,2235.9C939.6,2222.4 952.3,2207.2 963.6,2194.6C974.9,2182.1 988.2,2167.4 997.3,2160.3C1006.3,2153.2 1009.9,2155.3 1017.9,2151.9C1026.0,2148.5 1036.8,2143.0 1045.4,2139.9C1054.0,2136.7 1060.9,2135.0 1069.5,2133.0C1078.0,2131.0 1088.9,2127.3 1096.9,2127.8C1104.9,2128.4 1111.2,2132.7 1117.5,2136.4C1123.8,2140.1 1129.0,2144.4 1134.7,2150.2C1140.4,2155.9 1147.0,2164.5 1151.9,2170.8C1156.7,2177.1 1161.0,2182.5 1163.9,2187.9C1166.7,2193.4 1167.6,2197.1 1169.0,2203.4C1170.5,2209.7 1171.9,2222.0 1172.5,2225.7L1175.0,2460.0 840.0,2460.0Z"/>
<clipPath id="c_ak_in"><use href="#r_ak_in"/></clipPath>
<path id="landp" d="M547.3,254 548.6,265.3 543.5,283 537.2,293 528.4,299.3 520.4,303.1 510.8,304.4 500.7,300.6 485.6,294.3 475.5,288 465.5,277.9 459.2,269.1 451.6,267.8 446.6,277.9 445.3,286 447.8,295.5 448.6,308.1 449.6,320.7 448.6,333.3 449.9,345.9 450.4,356 456.7,363 461.7,368.6 454.1,371.1 449.1,369.1 447.3,376.1 448.4,386.2 454.1,390 456.7,395 450.4,396.3 445.8,393.8 443.3,403.8 437.8,413.9 439.8,421.5 435.3,434.1 432.7,446.6 429,459.2 425.2,471.8 421.4,484.4 417.6,497 412.6,509.6 408.8,522.2 405,532.3 401.3,539.8 358.3,620 347,636.4 347.7,652.7 345.7,665.3 340.7,675.4 340.7,690.5 344.4,698.1 338.1,711.9 342.7,719.5 341.9,730.8 336.9,745.9 329.3,758.5 328.1,771.1 320.5,781.2 310.4,791.2 302.1,800.1 301.6,811.4 309.2,821.5 314.2,834.1 318,846.6 320,856.7 316.7,866.8 311.7,874.3 309.9,886.9 310.4,899.5 306.7,909.6 311.7,922.2 318,937.3 325.5,947.4 329.3,960 333.1,970 335.6,977.6 328.1,982.6 335.6,987.7 343.2,997.7 348.2,1002.8 347,1012.9 343.2,1022.9 345.7,1033 341.9,1045.1 341.2,1040 344.4,1052.6 350.7,1062.7 363.3,1066.4 367.1,1077.8 360.8,1087.8 353.3,1092.9 352,1110.5 358.3,1120.6 364.6,1135.7 368.4,1148.3 374.7,1163.4 381,1173.5 388.5,1186.1 389.8,1193.6 386,1198.7 391,1206.2 397.3,1211.2 393.5,1223.8 394.8,1231.4 389.8,1241.5 387.2,1246.5 393.5,1255.3 401.1,1260.4 411.2,1261.6 421.2,1266.6 431.3,1271.7 441.4,1274.2 448.9,1279.2 456.5,1288.1 459,1294.3 466.6,1301.9 476.6,1310.7 486.7,1312 496.8,1313.2 499.3,1322.1 498.1,1329.6 496.8,1333.4 501.8,1337.2 509.4,1334.6 516.9,1342.2 524.5,1348.5 527,1357.3 534.6,1367.4 542.1,1380 545.9,1392.6 547.2,1405.2 545.1,1417.7 549.7,1425.3 550.9,1433.4 693.2,1449.2 686,1456 681,1463 886.4,1582.8 1000,1598 1000,1599.6 1049.8,1604.7 1053.2,1574.9 1145.9,1581.7 1152.8,1585.9 1159.7,1596.2 1164.8,1609.9 1175.1,1618.5 1185.4,1630.5 1195.7,1640.8 1206,1651.1 1219.8,1661.4 1230.1,1668.3 1237,1678.6 1240.4,1692.3 1247.3,1706 1245.5,1719.8 1250.7,1733.5 1257.6,1743.8 1266.1,1754.1 1274.7,1764.4 1285,1773 1295.3,1779.9 1305.6,1785 1315.9,1791.9 1326.2,1797 1334.8,1795.3 1340,1788.5 1348.6,1783.3 1352,1773 1357.1,1764.4 1360.6,1755.8 1367.4,1747.3 1377.7,1743.8 1388,1740.4 1398.4,1744.5 1412.1,1746.6 1425.8,1749 1436.1,1747.9 1443,1755.8 1449.9,1764.4 1460.2,1773 1470.5,1785 1479.1,1795.3 1484.2,1807.3 1489.4,1819.4 1494.5,1829.7 1499.7,1843.4 1506.5,1857.1 1515.1,1867.4 1522,1877.7 1530.6,1889.8 1539.1,1900.1 1546,1905.2 1549.5,1917.2 1547.7,1925.8 1552.9,1936.1 1554.6,1946.4 1561.5,1956.7 1566.6,1961.9 1568.3,1973.9 1571.8,1984.2 1583.8,1987.6 1594.1,1994.5 1604.4,1999.7 1618.1,2006.5 1628.4,2011.7 1642.2,2015.1 1652.5,2018.5 1666.2,2022 1676.5,2027.1 1690.2,2023.7 1693.7,2015.1 1690.2,1997.9 1686.8,1980.8 1681.7,1963.6 1676.5,1949.9 1678.2,1932.7 1683.4,1912.1 1690.2,1894.9 1700.5,1881.2 1712.6,1870.9 1724.6,1860.6 1738.3,1850.3 1750,1843.4 1766.8,1834.7 1787.4,1827.9 1804.5,1814.1 1818.3,1803.8 1832,1793.5 1842.3,1783.2 1849.2,1774.6 1862.9,1771.2 1876.6,1766 1890.4,1762.6 1904.1,1759.2 1924.7,1758.5 1945.3,1762.6 1965.9,1767.8 1986.5,1770.2 1993.4,1766 1993.4,1759.2 2000.3,1755.7 2010.6,1748.9 2014,1759.2 2024.3,1755.7 2031.2,1762.6 2020.9,1769.5 2017.4,1776.3 2027.7,1772.9 2038,1769.5 2048.4,1779.8 2044.9,1786.6 2055.2,1793.5 2069,1800.4 2082.7,1797 2096.4,1790.1 2110.2,1797 2123.9,1786.6 2130.8,1779.8 2141.1,1776.3 2151.4,1783.2 2165.1,1793.5 2168.5,1803.8 2178.8,1797 2189.1,1786.6 2178.8,1776.3 2168.5,1779.8 2158.2,1772.9 2158.2,1766 2165.1,1752.3 2172,1738.6 2168.5,1724.8 2158.2,1719.7 2147.9,1731.7 2137.6,1728.3 2144.5,1718 2154.8,1714.5 2165.1,1704.2 2178.8,1700.8 2192.6,1700.8 2206.3,1704.2 2220.1,1700.8 2233.8,1697.4 2237.2,1680.2 2244.1,1678.5 2247.5,1693.9 2254.4,1692.2 2268.1,1693.9 2285.3,1687.1 2302.5,1683.6 2319.6,1683.6 2336.8,1680.2 2354,1683.6 2371.2,1690.5 2388.3,1704.2 2400,1711.1 2402.6,1722.3 2406,1730.9 2423.2,1732.6 2433.5,1725.7 2447.3,1717.2 2461,1705.1 2467.9,1694.8 2478.2,1691.4 2488.5,1694.8 2498.8,1701.7 2509.1,1708.6 2519.4,1718.9 2526.2,1729.2 2536.5,1736 2543.4,1746.3 2550.3,1749.8 2560.6,1746.3 2567.4,1756.6 2572.6,1767 2574.3,1777.3 2577.7,1791 2574.3,1804.7 2570.9,1815 2572.6,1828.8 2576,1839.1 2581.2,1849.4 2588,1832.2 2594.9,1825.3 2598.4,1835.6 2593.2,1845.9 2594.9,1852.8 2584.6,1858 2591.5,1870 2601.8,1883.7 2612.1,1894 2619,1904.3 2622.4,1914.6 2629.3,1894 2625.8,1907.7 2639.6,1911.2 2646.4,1904.3 2639.6,1921.5 2646.4,1931.8 2653.3,1942.1 2660.2,1952.4 2667,1959.3 2680.8,1957.5 2691.1,1964.4 2697.9,1973 2704.8,1983.3 2708.2,1993.6 2718.5,1997 2732.3,2000.5 2742.6,1993.6 2752.9,1983.3 2759.8,1969.6 2761.5,1955.8 2759.8,1935.2 2759.1,1907.7 2757,1883.7 2749.5,1863.1 2739.1,1842.5 2728.8,1821.9 2715.1,1797.9 2704.8,1777.3 2701.4,1763.5 2687.6,1749.8 2677.3,1736 2667,1718.9 2656.7,1701.7 2646.4,1684.5 2639.6,1667.4 2632.7,1650.2 2627.5,1633 2625.8,1615.9 2631,1598.7 2634.4,1581.5 2636.1,1564.3 2643,1547.2 2649.9,1530 2644.2,1520.5 2654.5,1513.6 2661.4,1503.3 2668.3,1493 2678.6,1486.1 2692.3,1475.8 2702.6,1462.1 2716.3,1451.8 2724.9,1438 2728.4,1424.3 2737,1410.6 2745.5,1396.8 2755.8,1384.8 2771.3,1378 2785,1376.2 2791.9,1378 2791.9,1365.9 2795.3,1352.2 2802.2,1338.5 2809.1,1328.2 2819.4,1317.9 2829.7,1311 2849.9,1308.6 2858.1,1309.9 2860.2,1314.1 2863.6,1305.8 2867.7,1296.2 2871.9,1288 2876,1279.7 2884.2,1270.1 2891.1,1264.6 2898,1261.9 2906.9,1259.1 2906.9,1244 2904.8,1228.9 2895.2,1212.4 2882.9,1198.7 2874.6,1184.9 2867.7,1171.2 2860.9,1157.5 2856.8,1147.9 2857.4,1148.8 2849.1,1148.8 2840.9,1137.8 2836.8,1125.4 2835.4,1111.7 2836.8,1098 2839.5,1085.6 2835.4,1078.7 2827.1,1076 2818.9,1065 2813.4,1051.3 2805.2,1037.5 2802.4,1022.4 2801.7,1001.8 2802.4,993.6 2803.8,990.8 2806.5,993.6 2807.9,1001.8 2807.9,1022.4 2810.7,1036.2 2818.9,1048.5 2823,1060.9 2832.6,1071.9 2840.9,1076 2847.7,1084.2 2846.4,1091.1 2843.6,1098 2840.9,1111.7 2843.6,1125.4 2846.4,1135.1 2851.9,1137.8 2853.9,1138.5 2860.1,1135.1 2865.6,1118.6 2869.7,1098 2878,1077.4 2882.1,1056.8 2884.8,1033.4 2880.7,1019.7 2876.6,1011.4 2871.1,1005.9 2865.6,1003.2 2860.1,997.7 2857.4,994.9 2856,986.7 2858.7,985.3 2865.6,985.3 2871.1,982.6 2878,984 2879.3,992.2 2879.3,1000.4 2883.5,999.1 2886.2,992.2 2890.3,981.2 2897.2,967.5 2901.3,953.7 2909.6,940 2903,957.1 2908.9,942.3 2911.9,927.4 2911.9,912.5 2910.4,897.6 2908.9,885.7 2906,882.7 2900,885.7 2891.1,887.2 2894,879.8 2900,873.8 2904.5,867.9 2904.5,861.9 2908.9,847 2911.9,838.1 2917.9,835.1 2932.7,826.2 2947.6,817.3 2962.5,809.8 2977.4,802.4 2992.3,797.9 3007.1,793.5 3016.1,787.5 3022,778.6 3019,766.7 3025,760.7 3031,775.6 3039.9,772.6 3048.8,766.7 3054.8,760.7 3060.7,754.8 3072.6,751.8 3081.5,748.8 3087.5,745.8 3089,754.8 3090.5,739.9 3084.5,731 3075.6,726.5 3066.7,728 3069.6,725 3078.6,728 3087.5,736.9 3078.6,748.8 3066.7,750.3 3057.7,748.8 3051.8,739.9 3045.8,733.9 3039.9,728 3031,722 3022,719 3025,713.1 3031,704.2 3028,698.2 3036.9,695.2 3033.9,689.3 3028,686.3 3022,677.4 3023.5,668.5 3025,664 3028,653.6 3031,635.7 3036.9,623.8 3036.9,611.9 3042.9,606 3051.8,600 3051.2,599.4 3056.2,579.2 3076.4,569.1 3086.4,549 3101.6,544 3116.7,528.8 3131.8,523.8 3146.9,513.7 3162,503.7 3169.6,496.1 3162,483.5 3146.9,478.5 3136.8,468.4 3131.8,453.3 3111.6,448.3 3106.6,428.1 3086.4,360.1 3076.4,355.1 3058.7,348.5 3041.1,352.6 3026,362.6 3021,357.6 3010.9,355.1 3005.9,382.8 2993.3,413 2990.8,443.2 2993.3,473.4 2985.7,498.6 2978.2,508.7 2983.2,513.7 2970.6,523.8 2953,528.8 2950.5,551.5 2864.8,569.1 2794.3,586.8 2779.2,599.4 2778,600 2757.1,632.7 2748.2,638.7 2736.3,656.5 2739.3,664 2748.2,665.5 2745.2,668.5 2736.3,677.4 2742.3,674.4 2749.7,686.3 2748.2,698.2 2739.3,704.2 2727.4,719 2718.5,728 2703.6,729.5 2685.7,733.9 2667.9,729.5 2650,731 2649.9,731.7 2636.8,743.4 2617.9,750.3 2616.2,760.6 2623.1,764 2628.2,774.3 2623.1,781.2 2609.3,794.9 2590.5,817.2 2568.1,836.1 2554.4,846.4 2526.9,870.5 2499.5,887.6 2475.4,897.9 2458.2,904.8 2441.1,901.4 2430.8,894.5 2413.6,887.6 2406.7,885.9 2413.6,873.9 2420.5,856.7 2423.9,843 2430.8,829.3 2434.2,819 2444.5,815.5 2447.9,805.2 2449.7,791.5 2444.5,784.6 2437.6,764 2435.9,760.6 2430.8,743.4 2425.6,729.7 2417,721.1 2406.7,722.8 2396.4,729.7 2389.6,740 2384.4,750.3 2379.3,757.1 2367.2,750.3 2365.5,740 2372.4,726.2 2379.3,712.5 2389.6,709.1 2391.3,698.8 2386.1,685 2379.3,671.3 2382.7,661 2391.3,655.8 2382.7,647.3 2375.8,640.4 2362.1,635.2 2348.4,630.1 2338,623.2 2327.7,619.8 2314,623.2 2303.7,630.1 2293.4,637 2293.4,640.4 2300.3,643.8 2290,650.7 2283.1,661 2279.7,674.7 2276.2,685 2269.4,674.7 2265.9,685 2259.1,681.6 2252.2,688.5 2250.5,698.8 2245.3,709.1 2245.3,726.2 2241.9,736.5 2236.7,743.4 2240.2,757.1 2241.9,770.9 2238.5,777.7 2245.3,791.5 2252.2,801.8 2257.3,812.1 2260.8,829.3 2260.8,846.4 2259.1,860.2 2252.2,877.3 2245.3,891.1 2235,903.1 2224.7,911.7 2214.4,915.1 2204.1,911.7 2197.3,897.9 2190.4,884.2 2183.5,870.5 2181.8,856.7 2180.1,839.6 2176.6,825.8 2173.2,805.2 2174.9,788 2178.4,770.9 2180.1,753.7 2183.5,740 2185.2,722.8 2187,709.1 2190.4,698.8 2197.3,685 2204.1,671.3 2211,657.6 2217.9,647.3 2223,637 2217.9,633.5 2207.6,647.3 2197.3,661 2190.4,674.7 2187,688.5 2180.1,698.8 2173.2,705.6 2166.3,715.9 2159.5,715.9 2157.8,705.6 2164.6,695.3 2173.2,685 2180.1,674.7 2183.5,664.4 2190.4,650.7 2197.3,640.4 2207.6,637 2224.7,630.1 2241.9,633.5 2259.1,626.6 2276.2,630.1 2286.5,623.2 2300.3,612.9 2314,602.6 2327.7,592.3 2336.3,578.6 2334.6,564.8 2327.7,561.4 2314,564.8 2300.3,568.3 2293.4,564.8 2291.7,549.4 2283.1,551.1 2269.4,554.5 2252.2,558 2235,561.4 2221.3,568.3 2211,575.1 2197.3,578.6 2183.5,575.1 2169.8,564.8 2156,558 2145.7,551.1 2135.4,554.5 2128.6,561.4 2125.1,554.5 2132,544.2 2138.9,533.9 2149.2,523.6 2162.9,518.5 2159.5,515 2145.7,513.3 2132,516.8 2121.7,523.6 2118.3,530.5 2111.4,537.4 2101.1,544.2 2087.4,554.5 2073.6,561.4 2059.9,568.3 2042.7,575.1 2029,582 2015.2,578.6 2008.4,561.4 2001.5,564.8 1984.3,571.7 1967.2,578.6 1950,582 1950,580.3 1967.2,568.3 1984.3,547.7 2001.5,527.1 2018.7,509.9 2034.1,501.3 2053,492.7 2070.2,482.4 2063.3,482.4 2034.1,480.7 2018.7,480.7 2006.7,472.1 1994.6,479 1974,485.9 1950,467 1946.2,465.9 1936.1,468.4 1926,463.4 1921,455.8 1905.9,450.8 1885.7,455.8 1870.6,458.3 1865.6,450.8 1845.4,448.3 1827.8,440.7 1826.8,433.2 1819.2,401.4 1805.1,401.4 1805.1,427.1 1709.4,427.1 1603.7,423.6 1502.9,419 1394.6,411.5 1301.5,402.9 1200.7,390.3 1100,375.2 950,348.4 903.7,338.4 777.7,311.9 651.8,281.7 547.3,254ZM2906,873.8 2917.9,870.8 2932.7,866.4 2947.6,860.4 2962.5,853 2977.4,842.6 2992.3,830.7 3004.2,818.8 2992.3,817.3 2983.3,814.3 2977.4,823.2 2965.5,832.1 2953.6,838.1 2941.7,841.1 2929.8,845.5 2917.9,850 2908.9,856 2904.5,861.9 2901.5,869.3Z"/>
<path id="akp" d="M1111.3,1764.9 1096.9,1760.4 1083.2,1755.2 1069.5,1750.1 1059.1,1753.5 1048.8,1762.1 1035.1,1758.7 1021.4,1755.2 1007.6,1757 993.9,1751.8 980.2,1744.9 963,1744.9 949.3,1751.8 935.5,1748.4 925.2,1741.5 928.7,1732.9 911.5,1731.2 897.7,1734.6 890.9,1724.3 880.6,1717.5 873.7,1727.8 870.3,1734.6 877.1,1724.3 873.7,1714 865.1,1706.5 856.5,1714 846.2,1724.3 832.5,1727.8 818.8,1727.8 808.5,1734.6 794.7,1744.9 777.6,1748.4 767.3,1755.2 757,1769 750.1,1786.2 739.8,1799.9 726,1805 712.3,1805 696.9,1803.3 695.1,1813.6 691.7,1822.2 683.1,1823.9 691.7,1830.8 702,1841.1 712.3,1854.8 722.6,1868.6 726,1882.3 726,1889.2 739.8,1894.3 753.5,1897.8 765.5,1899.5 760.4,1909.8 763.8,1923.5 770.7,1930.4 770.7,1939 760.4,1930.4 753.5,1944.1 739.8,1940.7 726,1937.3 717.5,1930.4 719.2,1920.1 724.3,1914.9 712.3,1913.2 691.7,1916.6 671.1,1923.5 650.5,1932.1 635,1937.3 636.8,1947.6 650.5,1957.9 660.8,1963 657.4,1975 653.9,1968.2 659.1,1985.3 660.8,1995.6 674.5,2002.5 688.3,2007.7 702,2005.9 715.7,2005.9 722.6,2012.8 726,2018 732.9,2009.4 743.2,2002.5 757,1999.1 763.8,1995.6 767.3,2005.9 765.5,2012.8 757,2016.2 753.5,2026.5 760.4,2036.8 763.8,2050.6 757,2060.9 743.2,2062.6 732.9,2060.9 726,2054 729.5,2064.3 722.6,2071.2 712.3,2076.3 705.4,2076.3 698.6,2067.7 688.3,2066 678,2074.6 672.8,2088.4 671.1,2095.2 660.8,2102.1 650.5,2112.4 643.6,2122.7 638.5,2133 636.8,2143.3 641.9,2150.2 645.9,2150 654.5,2160.3 651.1,2174 645.9,2184.3 654.5,2191.2 661.4,2204.9 670,2215.2 664.8,2222.1 678.6,2223.8 692.3,2223.8 706,2218.7 714.6,2217 718.1,2229 721.5,2242.7 714.6,2253 716.3,2266.8 718.1,2280.5 707.8,2282.2 716.3,2287.4 730.1,2282.2 740.4,2275.3 750.7,2270.2 754.1,2280.5 764.4,2278.8 771.3,2277.1 774.7,2287.4 781.6,2301.1 788.5,2297.7 786.7,2285.6 791.9,2277.1 797,2271.9 798.8,2283.9 802.2,2290.8 815.9,2287.4 826.2,2280.5 833.1,2278.8 829.7,2290.8 822.8,2301.1 817.7,2311.4 815.9,2321.7 812.5,2335.4 810.8,2345.7 802.2,2349.2 791.9,2359.5 785,2368.1 781.6,2376.6 771.3,2378.4 757.6,2383.5 747.3,2390.4 737,2400.7 733.5,2411 724.9,2407.6 721.5,2416.1 726.6,2424.7 730.1,2421.3 740.4,2424.7 750.7,2424.7 761,2417.9 771.3,2416.1 781.6,2407.6 791.9,2397.3 802.2,2387 812.5,2380.1 822.8,2374.9 833.1,2369.8 843.4,2362.9 846.8,2352.6 857.1,2345.7 864,2335.4 874.3,2328.6 881.2,2321.7 891.5,2314.8 901.8,2304.5 912.1,2297.7 917.2,2287.4 915.5,2277.1 905.2,2273.6 898.4,2270.2 905.2,2259.9 908.7,2249.6 919,2242.7 925.8,2232.4 922.4,2218.7 932.7,2215.2 939.6,2204.9 946.4,2208.4 949.9,2198.1 956.7,2191.2 963.6,2184.3 970.5,2177.5 977.3,2168.9 980.8,2174 973.9,2184.3 963.6,2194.6 960.2,2208.4 953.3,2218.7 953.3,2232.4 960.2,2239.3 956.7,2249.6 949.9,2263.3 960.2,2270.2 973.9,2263.3 987.6,2253 1001.4,2242.7 1015.1,2232.4 1028.8,2225.5 1042.6,2232.4 1049.5,2225.5 1066.6,2218.7 1083.8,2215.2 1101,2218.7 1118.1,2215.2 1135.3,2213.5 1152.5,2210.1 1169.6,2206.7 1161.1,2205.8 1173.7,2205.8 1184.2,2209 1192.7,2212.1 1205.3,2214.2 1217.9,2213.2 1226.4,2210 1230.6,2218.5 1239,2220.6 1247.4,2224.8 1258,2229 1268.5,2231.1 1279,2237.4 1285.3,2243.7 1291.7,2234.3 1289.6,2231.1 1285.3,2222.7 1281.1,2218.5 1272.7,2214.2 1264.3,2207.9 1255.9,2199.5 1249.5,2193.2 1241.1,2189 1240.1,2175.3 1232.7,2178.4 1224.3,2179.5 1217.9,2187.9 1209.5,2184.8 1208.5,2189 1196.9,2186.9ZM881.2,2352.6 888,2342.3 901.8,2335.4 912.1,2321.7 925.8,2311.4 936.1,2294.2 946.4,2301.1 953.3,2311.4 946.4,2328.6 943,2345.7 929.3,2359.5 919,2369.8 908.7,2380.1 898.4,2390.4 884.6,2395.5 879.5,2393.8 891.5,2383.5 894.9,2373.2 888,2366.3 882.9,2359.5Z"/>
<clipPath id="landak"><path d="M1111.3,1764.9 1096.9,1760.4 1083.2,1755.2 1069.5,1750.1 1059.1,1753.5 1048.8,1762.1 1035.1,1758.7 1021.4,1755.2 1007.6,1757 993.9,1751.8 980.2,1744.9 963,1744.9 949.3,1751.8 935.5,1748.4 925.2,1741.5 928.7,1732.9 911.5,1731.2 897.7,1734.6 890.9,1724.3 880.6,1717.5 873.7,1727.8 870.3,1734.6 877.1,1724.3 873.7,1714 865.1,1706.5 856.5,1714 846.2,1724.3 832.5,1727.8 818.8,1727.8 808.5,1734.6 794.7,1744.9 777.6,1748.4 767.3,1755.2 757,1769 750.1,1786.2 739.8,1799.9 726,1805 712.3,1805 696.9,1803.3 695.1,1813.6 691.7,1822.2 683.1,1823.9 691.7,1830.8 702,1841.1 712.3,1854.8 722.6,1868.6 726,1882.3 726,1889.2 739.8,1894.3 753.5,1897.8 765.5,1899.5 760.4,1909.8 763.8,1923.5 770.7,1930.4 770.7,1939 760.4,1930.4 753.5,1944.1 739.8,1940.7 726,1937.3 717.5,1930.4 719.2,1920.1 724.3,1914.9 712.3,1913.2 691.7,1916.6 671.1,1923.5 650.5,1932.1 635,1937.3 636.8,1947.6 650.5,1957.9 660.8,1963 657.4,1975 653.9,1968.2 659.1,1985.3 660.8,1995.6 674.5,2002.5 688.3,2007.7 702,2005.9 715.7,2005.9 722.6,2012.8 726,2018 732.9,2009.4 743.2,2002.5 757,1999.1 763.8,1995.6 767.3,2005.9 765.5,2012.8 757,2016.2 753.5,2026.5 760.4,2036.8 763.8,2050.6 757,2060.9 743.2,2062.6 732.9,2060.9 726,2054 729.5,2064.3 722.6,2071.2 712.3,2076.3 705.4,2076.3 698.6,2067.7 688.3,2066 678,2074.6 672.8,2088.4 671.1,2095.2 660.8,2102.1 650.5,2112.4 643.6,2122.7 638.5,2133 636.8,2143.3 641.9,2150.2 645.9,2150 654.5,2160.3 651.1,2174 645.9,2184.3 654.5,2191.2 661.4,2204.9 670,2215.2 664.8,2222.1 678.6,2223.8 692.3,2223.8 706,2218.7 714.6,2217 718.1,2229 721.5,2242.7 714.6,2253 716.3,2266.8 718.1,2280.5 707.8,2282.2 716.3,2287.4 730.1,2282.2 740.4,2275.3 750.7,2270.2 754.1,2280.5 764.4,2278.8 771.3,2277.1 774.7,2287.4 781.6,2301.1 788.5,2297.7 786.7,2285.6 791.9,2277.1 797,2271.9 798.8,2283.9 802.2,2290.8 815.9,2287.4 826.2,2280.5 833.1,2278.8 829.7,2290.8 822.8,2301.1 817.7,2311.4 815.9,2321.7 812.5,2335.4 810.8,2345.7 802.2,2349.2 791.9,2359.5 785,2368.1 781.6,2376.6 771.3,2378.4 757.6,2383.5 747.3,2390.4 737,2400.7 733.5,2411 724.9,2407.6 721.5,2416.1 726.6,2424.7 730.1,2421.3 740.4,2424.7 750.7,2424.7 761,2417.9 771.3,2416.1 781.6,2407.6 791.9,2397.3 802.2,2387 812.5,2380.1 822.8,2374.9 833.1,2369.8 843.4,2362.9 846.8,2352.6 857.1,2345.7 864,2335.4 874.3,2328.6 881.2,2321.7 891.5,2314.8 901.8,2304.5 912.1,2297.7 917.2,2287.4 915.5,2277.1 905.2,2273.6 898.4,2270.2 905.2,2259.9 908.7,2249.6 919,2242.7 925.8,2232.4 922.4,2218.7 932.7,2215.2 939.6,2204.9 946.4,2208.4 949.9,2198.1 956.7,2191.2 963.6,2184.3 970.5,2177.5 977.3,2168.9 980.8,2174 973.9,2184.3 963.6,2194.6 960.2,2208.4 953.3,2218.7 953.3,2232.4 960.2,2239.3 956.7,2249.6 949.9,2263.3 960.2,2270.2 973.9,2263.3 987.6,2253 1001.4,2242.7 1015.1,2232.4 1028.8,2225.5 1042.6,2232.4 1049.5,2225.5 1066.6,2218.7 1083.8,2215.2 1101,2218.7 1118.1,2215.2 1135.3,2213.5 1152.5,2210.1 1169.6,2206.7 1161.1,2205.8 1173.7,2205.8 1184.2,2209 1192.7,2212.1 1205.3,2214.2 1217.9,2213.2 1226.4,2210 1230.6,2218.5 1239,2220.6 1247.4,2224.8 1258,2229 1268.5,2231.1 1279,2237.4 1285.3,2243.7 1291.7,2234.3 1289.6,2231.1 1285.3,2222.7 1281.1,2218.5 1272.7,2214.2 1264.3,2207.9 1255.9,2199.5 1249.5,2193.2 1241.1,2189 1240.1,2175.3 1232.7,2178.4 1224.3,2179.5 1217.9,2187.9 1209.5,2184.8 1208.5,2189 1196.9,2186.9ZM881.2,2352.6 888,2342.3 901.8,2335.4 912.1,2321.7 925.8,2311.4 936.1,2294.2 946.4,2301.1 953.3,2311.4 946.4,2328.6 943,2345.7 929.3,2359.5 919,2369.8 908.7,2380.1 898.4,2390.4 884.6,2395.5 879.5,2393.8 891.5,2383.5 894.9,2373.2 888,2366.3 882.9,2359.5Z"/></clipPath>
</defs>
<rect width="3300" height="2550" fill="#fff"/>
<g clip-path="url(#land)">
<use href="#r_nw_out" fill="#f3d595"/>
<use href="#r_nw_in" fill="#dba850"/>
<use href="#r_w_out" fill="#b4dfb1"/>
<use href="#r_w_in" fill="#96ce80"/>
<use href="#r_c_in" fill="#96ce80"/>
<use href="#r_tx_out" fill="#f3d595"/>
<use href="#r_tx_in" fill="#dba850"/>
<use href="#r_se_out" fill="#b4dfb1"/>
<use href="#r_se_mid" fill="#96ce80"/>
<use href="#r_se_in" fill="#48ae38"/>
<use href="#r_mi_out" fill="#f3d595"/>
<use href="#r_mi_in" fill="#dba850"/>
</g>
<g clip-path="url(#landak)">
<use href="#r_ak_out" fill="#b4dfb1"/>
<use href="#r_ak_in" fill="#96ce80"/>
</g>
<g clip-path="url(#land)" class="rg">
<use href="#r_nw_out"/>
<use href="#r_nw_in"/>
<use href="#r_w_out"/>
<use href="#r_w_in"/>
<use href="#r_c_in"/>
<use href="#r_tx_out"/>
<use href="#r_tx_in"/>
<use href="#r_se_out"/>
<use href="#r_se_mid"/>
<use href="#r_se_in"/>
<use href="#r_mi_out"/>
<use href="#r_mi_in"/>
</g>
<g clip-path="url(#landak)" class="rg">
<use href="#r_ak_out"/>
<use href="#r_ak_in"/>
</g>
<g clip-path="url(#c_nw_out)"><use href="#landp" class="rg"/></g>
<g clip-path="url(#c_w_out)"><use href="#landp" class="rg"/></g>
<g clip-path="url(#c_tx_out)"><use href="#landp" class="rg"/></g>
<g clip-path="url(#c_se_out)"><use href="#landp" class="rg"/></g>
<g clip-path="url(#c_mi_out)"><use href="#landp" class="rg"/></g>
<g clip-path="url(#c_ak_out)"><use href="#akp" class="rg"/></g>
<g class="st">
<path d="M547.3,254 651.8,281.7 777.7,311.9 903.7,338.4 950,348.4"/>
<path d="M439.8,421.5 450.4,416.4 463,426.5 475.5,434.1 485.6,441.6 489.4,451.7 486.9,461.8 484.4,474.3 488.1,481.9 500.7,488.2 513.3,488.2 528.4,484.4 541,486.9 553.6,493.2 561.2,499.5 573.8,498.3 586.4,497 596.4,502.1 609,502.1 621.6,500.8 636.7,498.3 651.8,500.8 666.9,499.5 689.6,504.6 714.8,510.9 740,517.2 766.4,522.2"/>
<path d="M805.4,319.5 792.9,383.7 777.7,459.2 766.4,522.2 770.2,534.8 777.7,542.3 782.8,552.4 775.2,565 765.2,580.1 755.1,592.7 747.5,605.3 734.9,617.9 727.4,628 726.1,638 732.4,645.1"/>
<path d="M849.5,330.8 843.2,361 836.9,396.3 843.2,416.4 847,429 842,436.6 850.8,446.6 860.9,459.2 865.9,471.8 870.9,484.4 876,494.5 886,502.1 896.1,503.3 894.8,514.6 888.6,527.2 883.5,542.3 878.5,554.9 873.4,565 872.2,575.1 878.5,582.6 891.1,577.6 901.1,571.3 906.2,580.1 908.7,592.7 911.2,605.3 916.3,617.9 918.8,628 926.3,638 931.4,645.1"/>
<path d="M344.4,698.1 401.1,713.2 552.2,757.2 700.8,792.5 800,812.7"/>
<path d="M552.2,757.2 500.6,957.5 558.5,1045.1 556,1040 724.7,1291.8"/>
<path d="M700.8,792.5 712.1,738.4 720.9,695.5 728.5,667.8 733.5,655.3 738.6,645.2 731,635.1 726,627.6 728.5,620"/>
<path d="M698.3,1449.2 703.3,1442.9 705.8,1432.9 697,1425.3 695.7,1415.2 699.5,1402.6 708.3,1395.1 712.1,1385 715.9,1369.9 728.5,1359.8 741.1,1349.8 742.3,1344.7 733.5,1332.1 731,1322.1 727.2,1306.9 724.7,1294.3 728.5,1291.8 731,1279.2 729.7,1266.6 731.5,1254.1 732.3,1236.4 733.5,1221.3 743.6,1217.5 753.7,1220.1 761.2,1228.9 768.8,1226.4 773.8,1216.3 778.8,1191.1 783.9,1165.9 791.4,1115.5 800,1065.2"/>
<path d="M1145.9,1581.7 1145.9,1571.1 1353.7,1590 1361.3,1500"/>
<path d="M1890.4,1762.6 1892.1,1752.3 1899,1742 1902.4,1724.8 1902.4,1707.7 1904.1,1697.4 1911,1683.6 1912.7,1669.9 1907.6,1656.2 1904.1,1642.4 1897.3,1632.1 1893.8,1621.8 1887,1611.5 1880.1,1602.9 1880.1,1560"/>
<path d="M2051.8,1560 2058.7,1570.3 2062.1,1577.2 2051.8,1587.5 2048.4,1597.8 2041.5,1611.5 2034.6,1625.2 2027.7,1639 2022.6,1652.7 2027.7,1668.2 2135.9,1662 2134.2,1673.3 2130.8,1683.6 2137.6,1697.4 2144.5,1711.1 2147.9,1718"/>
<path d="M2261.3,1652.7 2264.7,1663 2275,1673.3 2271.6,1687.1 2268.1,1693.9"/>
<path d="M2402.6,1530 2406,1547.2 2409.5,1550.6 2402.6,1571.2 2406,1591.8 2409.5,1615.9 2414.6,1636.5 2423.2,1653.6 2457.6,1652.9 2543.4,1645 2627.5,1633"/>
<path d="M2263.5,1652.9 2414.6,1637.1"/>
<path d="M2500,1233.7 2551.5,1226.9 2637.4,1214.8 2740.4,1197.7 2809.1,1183.9 2857.1,1175.3"/>
<path d="M2500,1343.6 2510.3,1335 2527.5,1328.2 2568.7,1324.7 2603,1321.3 2613.3,1328.2 2621.9,1340.2 2683.7,1332.3 2754.1,1381.4"/>
<path d="M2500,1381.4 2506.9,1383.1 2517.2,1400.3 2534.3,1419.2 2551.5,1434.6 2568.7,1444.9 2575.5,1458.7 2589.3,1469 2599.6,1475.8 2606.5,1493 2613.3,1503.3 2623.6,1513.6 2630.5,1527.3 2635.6,1530.8"/>
<path d="M2551.5,1226.9 2553.2,1242.3 2544.6,1249.2 2534.3,1262.9 2520.6,1269.8 2510.3,1276.6 2500,1276.6"/>
<path d="M2500,1146.2 2513.7,1156.5 2525.8,1166.8 2534.3,1177.1 2548.1,1183.9 2561.8,1175.3 2575.5,1177.1 2589.3,1166.8 2603,1159.9 2616.8,1149.6 2620.2,1139.3 2616.8,1129 2627.1,1111.8 2632.2,1094.6 2637.4,1074 2651.1,1077.5 2661.4,1080.9 2668.3,1060.3 2670,1050"/>
<path d="M2525.8,1166.8 2510.3,1183.9 2500,1190.8"/>
<path d="M2650,828.6 2812.2,795.8 2822.6,803.9 2831.5,808.3 2836,820.2 2843.5,827.7 2855.4,830.7"/>
<path d="M2855.4,832.1 2903,847"/>
<path d="M2855.4,832.1 2843.5,853 2840.5,861.9 2844.9,867.9 2842,879.8 2843.5,890.2 2852.4,894.6 2858.3,903.6 2867.3,909.5 2873.2,914 2867.3,924.4 2861.3,930.4 2855.4,939.3 2846.4,945.2 2843.5,946.7"/>
<path d="M2650,989.9 2825.6,955.7 2831.5,946.7 2840.5,945.2"/>
<path d="M2827.1,957.1 2834.5,995.8 2843.5,1025.6 2849.4,1040.5 2879.2,1036"/>
<path d="M2906,768.2 2911.9,808.3 2920.8,829.2 2911.9,839.6"/>
<path d="M2906,769.6 2992.3,751.8 3011.6,746.7 3014.6,766.7"/>
<path d="M2992.3,751.8 3002.7,796.4"/>
<path d="M2904.5,720.5 2906,768.2"/>
<path d="M2906,720.5 2947.6,712.5 3002.7,701.2 3013.1,689.3 3023.5,669"/>
<path d="M2871.7,600 2877.7,608.9 2879.2,620.8 2876.2,629.8 2882.1,653.6 2885.1,664 2894,667 2900,689.3 2904.5,720.5"/>
<path d="M2937.2,600 2941.7,614.9 2940.2,632.7 2935.7,653.6 2937.2,674.4 2938.7,695.2 2941.7,704.2 2947.6,712.5"/>
<path d="M2992.3,600 3007.1,650.6 3019,664 3023.5,669"/>
<path d="M2650,1013.7 2661.9,1001.8 2670.8,992.9 2673.8,998.8 2688.7,995.8 2700.6,983.9 2709.5,986.9 2721.4,983.9 2727.4,995.8 2730.4,1001.8 2739.3,1003.3 2745.2,1013.7 2757.1,1019.6 2769,1022.6 2775,1031.5"/>
<path d="M2697.6,1000.3 2694.6,1022.6 2679.8,1046.4 2667.9,1064.3 2661.9,1088.1 2650,1091.1"/>
<path d="M2697.6,1000.3 2730.4,1013.7"/>
<path d="M2970.6,526.3 2992.3,599.9"/>
<path d="M2950.5,551.5 2955.5,579.2 2940.4,599.4"/>
<path d="M2864.8,569.1 2869.9,599.9"/>
<path d="M2034.1,585.4 2049.6,600.9 2080.5,606 2121.7,619.8 2157.8,633.5 2164.6,654.1 2161.2,664.4 2173.2,685"/>
<path d="M2039.3,867 2181.8,856.7"/>
<path d="M2202.4,911.7 2205.8,979.7"/>
<path d="M2339.8,893.5 2350.1,979.7"/>
<path d="M2235,903.1 2339.8,893.5 2406.7,885.9"/>
<path d="M2554.4,843 2578.4,979.7"/>
<path d="M2590.5,817.2 2592.2,839.6 2649.9,828.9"/>
<path d="M1033.5,643.7 1027.5,705.1 1019.9,745.4 1012.4,785.7 999.8,847.7"/>
<path d="M800,812.6 900,832 999.5,847.8"/>
<path d="M852.2,820 846.2,850.2 846.2,850 799.8,1065.1 783.2,1164.8"/>
<path d="M999.8,850 989.7,915.5 1091.4,932.1"/>
<path d="M783.2,1164.8 1054.2,1208.6 1100,1213.6"/>
<path d="M1091.4,932.1 1052.7,1208.6 999.8,1596.9"/>
<path d="M1394.6,411.5 1378.5,620.5 1372,686 1361.9,850.2 1361.9,850 1351.8,959.8"/>
<path d="M1033.5,643.7 1100,649.7 1372,686"/>
<path d="M1378.5,620.5 1553.3,629.6 1738.6,637.1"/>
<path d="M1709.4,427.1 1712,453.3 1717,483.5 1724.5,518.8 1727.1,554 1729.6,579.2 1737.1,604.4 1739.7,624.5 1738.6,637.1 1739.7,649.7 1727.1,659.8 1734.6,674.9 1743.7,679.9 1744.7,805.4 1737.6,805.4 1740.2,814.9 1745.2,830 1740.2,845.1 1737.6,862.3"/>
<path d="M1737.6,805.4 1950.2,801.8 2005.1,799.8"/>
<path d="M1951.2,579.2 1946.2,589.3 1943.6,619.5 1926,639.7 1918.5,659.8 1926,679.9 1926,705.1 1931,725.3 1956.2,745.4 1981.4,760.5 1996.5,780.7 2005.1,799.8 2011.6,815.4 2008.6,829.5 2015.2,846.2 2016.7,850.2"/>
<path d="M1361.9,826 1400.2,825.5 1526.1,834.6 1639.4,839.1 1652,849.7"/>
<path d="M1091.4,932.1 1100,933.1 1329.2,959.8 1351.8,959.8 1451.1,971.9"/>
<path d="M1451.1,971.9 1450,1040.4 1436.4,1247.9"/>
<path d="M1450,1040.4 1603.7,1046.4 1797.6,1048.9"/>
<path d="M1652,849.5 1669.1,854 1684.8,849.5 1704.4,852.5 1715,858.6 1732.1,870.1 1737.6,862.1 1747.7,887.8 1754.8,900.4 1762.3,925.5 1769.9,950.7 1772.4,975.9 1777.4,1001.1 1779.9,1011.2 1790,1031.3 1797.6,1048.9 1810.2,1056.5 1825.3,1061.5 1815.2,1076.6 1825.3,1091.8 1840.4,1106.9 1840.4,1258 1844.4,1293.2 1853,1363.7 1854,1492.2"/>
<path d="M1779.9,1010.2 1991.5,1002.1 2006.6,1016.2"/>
<path d="M2016.7,850 2039.3,865.1 2051.9,880.2 2064.5,900.4 2062,920.5 2046.9,935.6 2026.7,945.7 2019.2,960.8 2026.7,975.9 2021.7,991 2006.6,1006.1 2001.6,1026.3 2006.6,1051.5 2021.7,1071.6 2041.8,1091.8 2051.9,1111.9 2077.1,1122 2079.6,1142.1 2069.6,1162.3 2087.2,1182.4 2107.3,1192.5 2117.4,1212.6 2132.5,1232.8 2137.5,1247.9 2132.5,1258 2127.5,1268 2122.4,1293.2 2117.4,1313.4 2102.3,1333.5 2097.3,1353.7 2087.2,1373.8 2077.1,1399 2072.1,1419.1 2067,1439.3 2057,1459.4 2051.9,1479.6 2046.9,1504.8 2044.4,1527.4 2051.9,1560.2"/>
<path d="M1100,1215.2 1383.6,1246.9 1437.5,1247.9 1603.7,1254.4 1840.4,1258"/>
<path d="M1383.6,1246.9 1379.5,1279.6 1545.7,1288.2 1541.7,1421.7 1553.3,1434.2 1573.4,1434.2 1588.6,1449.4 1608.7,1451.9 1628.8,1454.4 1644,1462 1654,1474.5 1674.2,1469.5 1689.3,1477.1 1704.4,1484.6 1719.5,1474.5 1734.6,1479.6 1749.7,1487.1 1769.9,1477.1 1790,1474.5 1810.2,1472 1830.3,1482.1 1850.5,1492.2 1878.2,1495.7 1879.7,1534 1880.2,1560.2"/>
<path d="M1379.5,1279.6 1354.3,1590.4"/>
<path d="M1844.4,1293.2 2089.7,1284.2 2094.7,1293.2 2087.2,1315.9 2117.4,1315.9"/>
<path d="M1879.7,1534 2044.4,1527.4"/>
<path d="M2089.7,1386.4 2200,1378.8"/>
<path d="M2127.5,1268 2200,1260.5"/>
<path d="M2137.5,1247.9 2145.1,1232.8 2162.7,1227.7 2177.8,1222.7 2182.9,1202.6 2200,1187.5"/>
<path d="M2205.5,979.9 2210.1,1051.5 2220.1,1111.9 2215.1,1132.1 2205,1147.2 2200,1157.2 2189.9,1172.3 2184.9,1187.5"/>
<path d="M2350.1,979.9 2361.2,1051.5"/>
<path d="M2184.9,1187.5 2200,1182.4 2220.1,1172.3 2240.3,1177.4 2265.5,1167.3 2280.6,1152.2 2300.7,1157.2 2315.8,1137.1 2331,1111.9 2351.1,1096.8 2361.2,1051.5 2371.2,1071.6 2386.4,1086.7 2401.5,1091.8 2421.6,1096.8 2441.8,1096.8 2461.9,1086.7 2477,1096.8 2487.1,1111.9 2502.2,1086.7 2502.2,1071.6 2522.3,1061.5 2527.4,1041.4 2547.5,1021.2 2562.6,1001.1 2570.2,975.9 2566.7,945.7 2567.7,925.5"/>
<path d="M2578.3,979.9 2580.3,1001.1 2635.7,993.5 2640.7,1026.3"/>
<path d="M2635.7,993.5 2649.8,990"/>
<path d="M2487.1,1111.9 2497.2,1137.1 2512.3,1157.2 2527.4,1167.3"/>
<path d="M2500.2,1191 2482.1,1222.7 2446.8,1240.3"/>
<path d="M2200,1263 2446.8,1240.3 2552.6,1225.2"/>
<path d="M2200,1378.8 2351.1,1366.3 2421.6,1353.7"/>
<path d="M2351.1,1366.3 2391.4,1509.8 2402.5,1529.9"/>
<path d="M2210.1,1378.8 2217.6,1700.2 2220.1,1713.3"/>
<path d="M2500.2,1276.6 2482.1,1298.3 2451.8,1308.3 2436.7,1323.4 2421.6,1341.1 2421.6,1353.7 2482.1,1353.7 2500.2,1343.6"/>
<path d="M931.5,645.1 932.7,660.7 939,672.1 945.3,664.5 960.4,668.3 968,663.3 975.5,667 990.7,669.5 1005.8,670.8 1010.8,659.5 1015.8,658.2 1020.9,668.3 1025.9,678.4"/>
</g>
<use href="#landp" class="ct"/>
<use href="#akp" class="ct"/>
<g class="ct">
<path d="M348.2,1002.8 355.8,990.2 363.3,985.2 368.4,977.6 367.1,987.7 375.9,992.7 386,995.2 398.6,992.7 406.1,1000.3 411.2,1004"/>
<path d="M348.2,1002.8 353.3,1007.8 358.3,1017.9 363.3,1028 368.4,1033 363.3,1033 355.8,1022.9 350.7,1015.4 348.2,1002.8"/>
<path d="M357,990.2 362.1,988.9 360.8,997.7 355.8,996.5 357,990.2"/>
<path d="M313,994 321.8,1004"/>
<path d="M1692,2011.7 1685.1,1980.8 1674.8,1953.3 1671.4,1946.4 1674.8,1925.8 1681.7,1894.9 1686.8,1889.8 1697.1,1877.7"/>
<path d="M1842.3,1783.2 1835.4,1779.8 1826.9,1779.8 1825.1,1766 1833.7,1762.6 1837.2,1757.5 1845.7,1759.2 1844,1769.5 1849.2,1774.6"/>
<path d="M2192.6,1724.8 2197.7,1735.1 2196,1745.4 2189.1,1755.7 2182.3,1762.6"/>
<path d="M2617.2,1674.2 2624.1,1684.5 2627.5,1698.3 2625.8,1712 2631,1722.3 2636.1,1732.6 2637.8,1725.7 2632.7,1715.4"/>
<path d="M2704.8,1861.4 2713.4,1866.5 2716.8,1876.8 2715.1,1887.1 2711.7,1895.7 2701.4,1894 2694.5,1885.4 2689.4,1878.6 2696.2,1870 2704.8,1861.4"/>
<path d="M2736.3,656.5 2724.4,656.5 2709.5,671.4 2694.6,687.8 2670.8,680.4 2650,689.3"/>
<path d="M2649.9,689.1 2636.8,695.3 2619.6,702.2 2602.5,709.1 2588.7,722.8 2580.2,736.5 2578.4,750.3 2592.2,755.4 2616.2,750.3"/>
<path d="M2423.9,843 2430.8,856.7 2447.9,860.2 2454.8,867 2458.2,856.7 2472,846.4 2485.7,836.1 2489.1,825.8 2502.9,812.1 2516.6,806.9 2533.8,805.2 2551,803.5 2568.1,804.5 2554.4,801.8 2568.1,788 2585.3,781.2 2602.5,776 2619.6,770.9 2628.2,774.3"/>
<path d="M2430.8,817.2 2441.1,815.5 2454.8,825.8 2453.1,839.6 2434.2,841.3 2427.3,832.7 2430.8,817.2"/>
<path d="M2070.2,482.4 2080.5,458.4 2097.7,444.6 2121.7,412 2132,410.3 2169.8,424 2207.6,420.6 2224.7,444.6 2238.5,468.7 2286.5,468.7 2283.1,489.3 2303.7,503 2300.3,530.5 2319.2,537.4 2314,554.5 2327.7,561.4"/>
<path d="M2336.3,575.1 2458.2,573.4 2454.8,578.6 2478.8,578.6 2499.5,578.6 2516.6,599.2 2533.8,612.9 2547.5,630.1 2564.7,647.3 2551,650.7 2549.2,671.3 2533.8,669.6 2516.6,661 2506.3,671.3 2492.6,647.3 2482.3,637 2461.7,633.5 2472,640.4 2485.7,657.6 2489.1,674.7 2482.3,691.9 2472,712.5 2478.8,750.3 2472,767.4 2449.7,791.5"/>
<path d="M2381,597.5 2396.4,588.9 2413.6,592.3 2430.8,585.4 2447.9,582 2458.2,592.3 2454.8,606 2444.5,612.9 2423.9,602.6 2403.3,599.2 2381,597.5"/>
<path d="M2008.4,561.4 2018.7,554.5 2029,552.8 2023.8,564.8 2030.7,568.3 2018.7,571.7 2015.2,578.6"/>
<path d="M3051.2,599.4 3041.1,619.5 3056.2,604.4 3051.2,624.5 3066.3,594.3 3068.8,609.4 3078.9,579.2 3086.4,594.3 3091.5,564.1 3101.6,574.2 3104.1,549 3116.7,559.1 3121.7,533.9 3131.8,544 3136.8,523.8 3149.4,528.8 3151.9,513.7 3162,513.7"/>
<path d="M889.9,852.1 911.3,854.1 908.8,863.5 915.1,874.8 918.9,889.9 923.9,889.9 925.2,872.3 937.8,871 943.3,877.3 942.8,883.6 935.3,887.4 937.8,897.5 946.6,911.3 935.3,920.1 916.4,928.9 905,922.6 897.5,912.6 892.4,897.5 895,884.9 888.7,874.8 892.4,862.2 889.9,852.1"/>
<path d="M721.5,2416.1 712.9,2407.6 699.2,2412.7 688.9,2419.6 678.6,2428.2 668.3,2435 661.4,2441.9 654.5,2448.8 661.4,2452.2 671.7,2445.3 682,2441.9 692.3,2435 702.6,2428.2 709.5,2421.3 716.3,2424.7 719.8,2431.6"/>
<path d="M1285.3,2243.7 1293.8,2247.9 1302.2,2252.2 1310.6,2254.3 1319,2256.4"/>
<path d="M1291.7,2234.3 1295.9,2229 1300.1,2222.7 1303.3,2219.5 1302.2,2226.9 1300.1,2233.2"/>
<path d="M1312.7,2191.1 1326.4,2181.6 1340.1,2190"/>
<path d="M1405.4,2247.9 1415.9,2254.3 1426.5,2262.7 1434.9,2271.1"/>
<path d="M1508.6,2306.9 1509.7,2315.3 1512.8,2323.8 1519.1,2332.2 1520.2,2338.5 1517,2351.2 1513.9,2365.9"/>
</g>
<g class="wt">
<path d="M2889.7,1223.4 2898,1224.8 2902.1,1233 2902.8,1244 2899.3,1250.9 2895.2,1253.6 2898,1256.4 2903.5,1257.7 2896.6,1260.5 2888.4,1264.6 2881.5,1270.1 2876,1274.2 2869.1,1275.6 2860.9,1277 2856.8,1272.9 2856.8,1267.4 2863.6,1266 2871.9,1261.9 2877.4,1253.6 2880.1,1244 2885.6,1238.5 2889.7,1233Z"/>
<path d="M2834.8,1219.3 2844.4,1215.4 2854,1211.7 2863.6,1208.3 2869.1,1204.2 2877.4,1206.9 2882.9,1212.4 2877.4,1211 2869.1,1211 2860.9,1212.4 2852.6,1215.2 2844.4,1218.6Z"/>
</g>
<g class="dkl">
<path d="M2048.4,1783.2 2058.7,1791.8 2072.4,1798.7 2084.4,1795.2 2096.4,1788.4 2110.2,1795.2 2123.9,1784.9 2134.2,1778.1 2144.5,1779.8"/>
<path d="M2812.8,1194.6 2822.4,1195.9 2826.5,1204.2 2829.3,1212.4 2834.8,1219.3"/>
<path d="M2865,1212.4 2867.7,1223.4 2870.5,1231.6"/>
<path d="M2814.2,1254.3 2825.2,1257.7 2836.2,1256.4 2844.4,1250.9 2852.6,1253.6 2863.6,1257.7 2871.9,1256.4"/>
<path d="M2836.2,1261.9 2847.1,1261.9 2854,1267.4"/>
<path d="M2819.7,1282.5 2829.3,1289.3 2838.9,1294.8 2847.1,1290.7 2852.6,1285.2 2858.1,1281.1"/>
<path d="M2847.1,1275.6 2849.9,1270.1"/>
<path d="M2854,1191.8 2863.6,1195.9 2871.9,1201.4"/>
<path d="M2840.3,1204.2 2847.1,1206.9 2856.8,1202.8"/>
<path d="M2781.2,1135.5 2794.9,1134.1 2805.9,1136.9 2816.9,1139.6 2825.2,1147.9 2829.3,1157.5 2836.2,1154.7 2841.6,1150.6 2849.9,1149.2"/>
<path d="M2807.3,1312.7 2811.4,1322.3"/>
<path d="M2823.8,1309.9 2827.9,1314.1"/>
<path d="M2772.2,1022.4 2776.3,1027.9 2774.9,1036.2 2766.7,1047.1 2762.6,1060.9 2770.8,1059.5 2779.1,1055.4 2788.7,1060.9 2796.9,1063.6 2809.3,1066.4 2816.2,1070.5 2821.6,1076"/>
<path d="M2774.9,1066.4 2785.9,1070.5 2796.9,1071.9 2807.9,1074.6 2816.2,1077.4 2824.4,1082.9"/>
<path d="M2773.6,1076 2785.9,1080.1 2794.2,1088.4 2802.4,1095.2 2813.4,1100.7 2824.4,1106.2 2832.6,1113.1 2835.4,1122.7"/>
<path d="M2791.4,1115.8 2802.4,1117.2 2816.2,1122.7 2827.1,1126.8 2835.4,1132.3 2838.1,1140.5"/>
<path d="M2780.4,1135.1 2794.2,1135.1 2805.2,1133.7 2816.2,1139.2 2827.1,1146 2836.8,1150.2 2843.6,1151.5"/>
<path d="M2827.1,1154.3 2828.5,1159.8 2827.1,1163.9"/>
<path d="M2792.8,1036.2 2796.9,1044.4 2802.4,1049.9 2810.7,1054 2816.2,1059.5"/>
<path d="M2788.7,994.9 2792.8,1001.8 2794.2,1011.4 2799.7,1016.9 2801,1025.2"/>
<path d="M2796.9,985.3 2805.2,981.2 2813.4,974.3 2821.6,967.5 2827.1,966.1"/>
<path d="M2816.2,992.2 2821.6,990.8 2816.2,999.1 2814.8,1008.7 2818.9,1016.9 2816.2,1025.2 2821.6,1033.4 2820.3,1041.6 2825.8,1038.9 2831.3,1032 2834,1022.4 2831.3,1018.3"/>
<path d="M2821.6,1049.9 2827.1,1055.4 2834,1052.6 2840.9,1044.4 2843.6,1041.6"/>
<path d="M2835.4,1058.1 2843.6,1060.9 2849.1,1063.6 2847.7,1071.9 2846.4,1077.4 2851.9,1074.6"/>
<path d="M2850.5,1088.4 2849.1,1102.1 2849.1,1118.6 2850.5,1132.3"/>
<path d="M2878,1044.4 2876.6,1056.8 2871.1,1077.4 2867,1091.1"/>
<path d="M2840.9,967.5 2847.7,974.3 2856,986.7"/>
</g>
<g class="isl">
<path d="M388.5,1284.3 396.1,1285.5 401.1,1291.8 408.7,1291.8 413.7,1296.9 411.2,1300.6 403.6,1300.6 398.6,1294.3 392.3,1289.3Z"/>
<path d="M418.7,1290.6 426.3,1291.8 436.4,1298.1 435.1,1301.9 423.8,1300.6Z"/>
<path d="M443.9,1301.9 450.2,1303.2 446.4,1304.4Z"/>
<path d="M423.8,1349.8 428.8,1349.2 432.6,1354.8 427.5,1356.8Z"/>
<path d="M456,1342.2 458.5,1342.2 458.5,1345.2 456,1345.2Z"/>
<path d="M481.7,1349.8 488,1351 495.5,1361.1 494.8,1366.9 489.2,1362.3Z"/>
<path d="M474.1,1378.7 477.9,1380 485.5,1396.3 481.7,1398.9 476.6,1390Z"/>
<path d="M3045.8,778.6 3057.7,775.6 3069.6,777.1 3066.7,783 3054.8,789 3048.8,786Z"/>
<path d="M3075.6,775.6 3087.5,774.1 3096.4,772.6 3094.9,780.1 3084.5,781.5Z"/>
<path d="M3014.6,800.9 3017.6,802.4 3016.7,808.3 3014.3,806.8Z"/>
<path d="M2082.2,492.7 2094.2,479 2111.4,468.7 2123.4,463.5 2121.7,468.7 2108,482.4 2094.2,491 2085.6,494.4Z"/>
<path d="M2344.9,592.3 2358.7,587.2 2369,592.3 2367.2,599.2 2348.4,599.2Z"/>
<path d="M537.2,2021.4 544,2009.4 550.9,2016.2 561.2,2021.4 571.5,2019.7 574.9,2030 585.2,2038.6 599,2043.7 597.3,2050.6 581.8,2050.6 576.7,2055.7 571.5,2043.7 561.2,2033.4 547.5,2030 540.6,2028.3Z"/>
<path d="M596.2,2191.4 609.3,2189.7 626.5,2186.2 635,2194.8 635,2208.5 623,2215.4 619.6,2212 609.3,2205.1 602.4,2200Z"/>
<path d="M609.4,2460.5 624.5,2447.9 649.7,2442.9 654.8,2455.5 644.7,2465.6 624.5,2470.6 612,2468.1Z"/>
<path d="M654.8,2445.4 669.9,2435.3 685,2430.3 700.1,2420.2 720.2,2407.6 725.3,2415.2 710.2,2430.3 690,2440.4 674.9,2450.5Z"/>
<path d="M478.5,2510.9 503.7,2495.8 523.8,2490.8 544,2485.7 564.1,2480.7 584.2,2475.6 604.4,2473.1 594.3,2480.7 574.2,2488.2 554,2495.8 533.9,2505.9 508.7,2510.9 493.6,2513.4Z"/>
<path d="M221.6,2483.2 241.8,2485.7 261.9,2495.8 282.1,2498.3 302.2,2503.3 322.3,2505.9 337.5,2498.3 345,2505.9 352.6,2515.9 367.7,2521 347.5,2515.9 322.3,2510.9 302.2,2508.4 272,2503.3 251.8,2500.8 231.7,2493.3Z"/>
<path d="M381.3,2511.9 388.8,2509.9 387.8,2516.9 381.8,2516.9Z"/>
<path d="M432.1,2509.9 441.2,2509.9 440.2,2514.9 433.2,2514.9Z"/>
<path d="M453.3,2508.4 468.4,2503.3 465.9,2510.9 455.8,2511.9Z"/>
<path d="M100.7,2430.3 118.4,2425.3 113.3,2432.8 104.8,2434.3Z"/>
<path d="M133.5,2458 138.5,2458 151.1,2478.2 147.1,2478.2 136,2465.6Z"/>
<path d="M162.2,2452.5 169.2,2452.5 170.2,2458.5 163.2,2459.5Z"/>
<path d="M186.4,2498.3 206.5,2490.8 204,2496.8 188.9,2500.8Z"/>
<path d="M2.5,2329.6 15.1,2327.1 22.7,2342.2 10.1,2342.2Z"/>
<path d="M14.1,2358.8 22.7,2360.8 22.2,2365.8 15.1,2364.8Z"/>
<path d="M476,2138.2 481,2145.7 491.1,2158.3 486,2160.9 478.5,2150.8Z"/>
<path d="M496.1,2310.4 502.2,2309.4 502.2,2314.5 496.6,2314.5Z"/>
<path d="M505.2,2342.2 511.2,2341.7 511.7,2346.2 505.7,2346.2Z"/>
<path d="M417,2511.9 421.1,2511.9 421.1,2515.9 417,2515.9Z"/>
<path d="M126.9,2439.4 136,2443.4 134,2447.4 127.9,2443.4Z"/>
</g>
<g class="dk">
<path d="M522.1,270.4 525.9,266.6 537.2,264.8 544.8,267.8 547.3,255.3 551.1,263.3 558.7,272.9 559.9,285.5 554.9,294.3 557.4,305.6 554.9,318.2 559.2,324.5 554.1,330.8 548.6,333.3 546.1,345.9 543.5,361 541,371.1 531,376.1 523.4,379.9 510.8,381.2 500.7,377.4 498.7,368.6 505.8,364.8 513.3,358.5 518.4,351 510.8,353.5 503.3,358.5 500.7,356 505.8,347.2 515.8,338.4 525.9,330.8 534.7,325.8 536,315.7 538,305.6 538.5,293 531,288 524.7,281.7 522.1,275.4Z"/>
<path d="M534.7,249.7 538.5,249 539.3,252.7 536,254Z"/>
<path d="M2147.9,1752.3 2156.5,1728.3 2166.8,1724.8 2172,1733.4 2166.8,1752.3 2161.7,1766 2173.7,1778.1 2185.7,1784.9 2182.3,1795.2 2170.3,1800.4 2163.4,1791.8 2151.4,1779.8 2144.5,1766Z"/>
<path d="M2735.7,2003.9 2740.9,2005.6 2728.8,2017.6 2715.1,2027.9 2711.7,2026.2 2725.4,2015.9Z"/>
<path d="M2708.2,2029.7 2694.5,2038.2 2680.8,2043.4 2663.6,2048.5 2646.4,2052.7 2645.7,2049.9 2663.6,2045.1 2680.8,2040 2694.5,2034.8Z"/>
<path d="M2596.6,2052.7 2603.5,2051.3 2604.5,2054.7 2597.7,2056.1Z"/>
<path d="M719.8,2421.3 726.6,2424.7 737,2435 747.3,2441.9 757.6,2445.3 764.4,2455.6 761,2465.9 750.7,2469.4 740.4,2460.8 733.5,2452.2 724.9,2445.3 719.8,2435Z"/>
<path d="M828,2404.1 833.1,2405.8 834.8,2414.4 830.4,2416.1Z"/>
<path d="M855.4,2421.3 860.6,2419.6 862.3,2426.4 857.1,2428.2Z"/>
<path d="M939.6,2278.8 949.9,2277.7 950.5,2283.2 941.3,2283.9Z"/>
<path d="M1078.6,2245.5 1083.1,2245.5 1083.1,2250.3 1078.6,2250.3Z"/>
</g>
<g class="dk" style="fill-opacity:.62;stroke-opacity:.8">
<path d="M1316.9,2247.9 1327.5,2250.1 1338,2247.9 1352.7,2250.1 1361.2,2256.4 1363.3,2266.9 1352.7,2264.8 1344.3,2269 1335.9,2266.9 1327.5,2260.6 1319,2256.4Z"/>
<path d="M1378,2256.4 1386.4,2247.9 1399.1,2250.1 1409.6,2258.5 1415.9,2264.8 1403.3,2266.9 1392.8,2264.8 1384.3,2264.8Z"/>
<path d="M1363.3,2314.3 1378,2315.3 1388.6,2319.6 1390.7,2336.4 1380.1,2328 1371.7,2319.6Z"/>
<path d="M1394.9,2315.3 1409.6,2313.2 1424.4,2319.6 1441.2,2311.1 1458.1,2317.5 1474.9,2319.6 1489.7,2321.7 1500.2,2332.2 1506.5,2344.8 1510.7,2361.7 1500.2,2363.8 1489.7,2368 1479.1,2382.7 1462.3,2389.1 1447.5,2378.5 1437,2368 1426.5,2359.6 1418,2342.7 1405.4,2336.4 1399.1,2325.9Z"/>
<path d="M1437,2385.9 1439.5,2385.3 1440.2,2390.1 1437.6,2390.1Z"/>
<path d="M1117.9,2222.7 1121.1,2214.2 1125.3,2211.1 1127.4,2214.2 1123.2,2220.6 1120,2226.9Z"/>
</g>
<text transform="translate(1649.3,147) scale(1,1.025)" font-size="150.25" text-anchor="middle">Monthly Precipitation Outlook</text>
<text transform="translate(1165,262) scale(1,1.03)" font-size="66.7" font-weight="bold">Valid:</text>
<text transform="translate(1374.5,262) scale(1,1.03)" font-size="66.7">March 2024</text>
<text transform="translate(1160.6,337) scale(1,1.03)" font-size="66.7" font-weight="bold">Issued:</text>
<text transform="translate(1429.6,337) scale(1,1.03)" font-size="66.7">February 15, 2024</text>
<text transform="translate(666.5,402) scale(1,1.03)" font-size="74.7" class="halo" text-anchor="middle">Below</text><text transform="translate(666.5,402) scale(1,1.03)" font-size="74.7" class="lbl" text-anchor="middle">Below</text>
<text transform="translate(2229.6,625) scale(1,1.03)" font-size="74.7" class="halo" text-anchor="middle">Below</text><text transform="translate(2229.6,625) scale(1,1.03)" font-size="74.7" class="lbl" text-anchor="middle">Below</text>
<text transform="translate(570.3,1108.5) scale(1,1.03)" font-size="74.7" class="halo" text-anchor="middle">Above</text><text transform="translate(570.3,1108.5) scale(1,1.03)" font-size="74.7" class="lbl" text-anchor="middle">Above</text>
<text transform="translate(1440,996) scale(1,1.03)" font-size="74.7" class="halo" text-anchor="middle">Above</text><text transform="translate(1440,996) scale(1,1.03)" font-size="74.7" class="lbl" text-anchor="middle">Above</text>
<text transform="translate(2575.1,1660.5) scale(1,1.03)" font-size="74.7" class="halo" text-anchor="middle">Above</text><text transform="translate(2575.1,1660.5) scale(1,1.03)" font-size="74.7" class="lbl" text-anchor="middle">Above</text>
<text transform="translate(1408.2,1688) scale(1,1.03)" font-size="74.7" class="halo" text-anchor="middle">Below</text><text transform="translate(1408.2,1688) scale(1,1.03)" font-size="74.7" class="lbl" text-anchor="middle">Below</text>
<text transform="translate(2216,1001.5) scale(1,1.03)" font-size="74.7" class="halo" text-anchor="middle">Equal</text><text transform="translate(2216,1001.5) scale(1,1.03)" font-size="74.7" class="lbl" text-anchor="middle">Equal</text>
<text transform="translate(2216.8,1087.5) scale(1,1.03)" font-size="74.7" class="halo" text-anchor="middle">Chances</text><text transform="translate(2216.8,1087.5) scale(1,1.03)" font-size="74.7" class="lbl" text-anchor="middle">Chances</text>
<text transform="translate(955.3,1964.7) scale(1,1.03)" font-size="58.5" class="halo" text-anchor="middle">Equal</text><text transform="translate(955.3,1964.7) scale(1,1.03)" font-size="58.5" class="lbl" text-anchor="middle">Equal</text>
<text transform="translate(954.5,2030) scale(1,1.03)" font-size="58.5" class="halo" text-anchor="middle">Chances</text><text transform="translate(954.5,2030) scale(1,1.03)" font-size="58.5" class="lbl" text-anchor="middle">Chances</text>
<text transform="translate(1385.4,2239.5) scale(1,1.03)" font-size="58.5" class="halo" text-anchor="middle">Equal</text><text transform="translate(1385.4,2239.5) scale(1,1.03)" font-size="58.5" class="lbl" text-anchor="middle">Equal</text>
<text transform="translate(1383.8,2305.9) scale(1,1.03)" font-size="58.5" class="halo" text-anchor="middle">Chances</text><text transform="translate(1383.8,2305.9) scale(1,1.03)" font-size="58.5" class="lbl" text-anchor="middle">Chances</text>
<text transform="translate(1069,2211) scale(1,1.03)" font-size="58.5" class="halo" text-anchor="middle">Above</text><text transform="translate(1069,2211) scale(1,1.03)" font-size="58.5" class="lbl" text-anchor="middle">Above</text>
<text transform="translate(2181.6,1903.4) scale(1,1.03)" font-size="53.5" font-weight="bold" text-anchor="middle">Probability</text>
<text transform="translate(2182,1965.2) scale(1,1.03)" font-size="53.5" font-weight="bold" text-anchor="middle">(Percent Chance)</text>
<text transform="translate(1932,2018.4) scale(1,1.03)" font-size="41.2" font-weight="bold" text-anchor="middle">Above</text>
<text transform="translate(1932,2064.8) scale(1,1.03)" font-size="41.2" font-weight="bold" text-anchor="middle">Normal</text>
<text transform="translate(2184,2015.7) scale(1,1.03)" font-size="41.2" font-weight="bold" text-anchor="middle">Near</text>
<text transform="translate(2184,2061.4) scale(1,1.03)" font-size="41.2" font-weight="bold" text-anchor="middle">Normal</text>
<text transform="translate(2451.5,2017.6) scale(1,1.03)" font-size="41.2" font-weight="bold" text-anchor="middle">Below</text>
<text transform="translate(2451.5,2064) scale(1,1.03)" font-size="41.2" font-weight="bold" text-anchor="middle">Normal</text>
<text transform="translate(2183,2301) scale(1,1.03)" font-size="41.2" font-weight="bold" text-anchor="middle">Equal</text>
<text transform="translate(2183,2348) scale(1,1.03)" font-size="41.2" font-weight="bold" text-anchor="middle">Chances</text>
<rect class="sw" x="1801.7" y="2088.2" width="91.3" height="40.7" fill="#b4dfb1"/>
<text transform="translate(1915.6,2120.8) scale(1,1.03)" font-size="36.7">33-40%</text>
<rect class="sw" x="2322.7" y="2088.5" width="91.3" height="40.7" fill="#f3d595"/>
<text transform="translate(2434.6,2121.1) scale(1,1.03)" font-size="36.7">33-40%</text>
<rect class="sw" x="1801.7" y="2153.0" width="91.3" height="40.7" fill="#96ce80"/>
<text transform="translate(1915.6,2185.6) scale(1,1.03)" font-size="36.7">40-50%</text>
<rect class="sw" x="2322.7" y="2153.3" width="91.3" height="40.7" fill="#dba850"/>
<text transform="translate(2434.6,2185.9) scale(1,1.03)" font-size="36.7">40-50%</text>
<rect class="sw" x="1801.7" y="2219.2" width="91.3" height="40.7" fill="#48ae38"/>
<text transform="translate(1915.6,2251.8) scale(1,1.03)" font-size="36.7">50-60%</text>
<rect class="sw" x="2322.7" y="2219.5" width="91.3" height="40.7" fill="#bb6d33"/>
<text transform="translate(2434.6,2252.1) scale(1,1.03)" font-size="36.7">50-60%</text>
<rect class="sw" x="1801.7" y="2284.4" width="91.3" height="40.7" fill="#3a7b5f"/>
<text transform="translate(1915.6,2317.0) scale(1,1.03)" font-size="36.7">60-70%</text>
<rect class="sw" x="2322.7" y="2284.7" width="91.3" height="40.7" fill="#9b5031"/>
<text transform="translate(2434.6,2317.3) scale(1,1.03)" font-size="36.7">60-70%</text>
<rect class="sw" x="1801.7" y="2349.8" width="91.3" height="40.7" fill="#008e40"/>
<text transform="translate(1915.6,2382.4) scale(1,1.03)" font-size="36.7">70-80%</text>
<rect class="sw" x="2322.7" y="2350.1" width="91.3" height="40.7" fill="#934639"/>
<text transform="translate(2434.6,2382.7) scale(1,1.03)" font-size="36.7">70-80%</text>
<rect class="sw" x="1801.7" y="2415.1" width="91.3" height="40.7" fill="#28553d"/>
<text transform="translate(1915.6,2447.7) scale(1,1.03)" font-size="36.7">80-90%</text>
<rect class="sw" x="2322.7" y="2415.4" width="91.3" height="40.7" fill="#804000"/>
<text transform="translate(2434.6,2448.0) scale(1,1.03)" font-size="36.7">80-90%</text>
<rect class="sw" x="1801.7" y="2480.5" width="91.3" height="40.7" fill="#285517"/>
<text transform="translate(1915.6,2513.1) scale(1,1.03)" font-size="36.7">90-100%</text>
<rect class="sw" x="2322.7" y="2480.8" width="91.3" height="40.7" fill="#4f2f2f"/>
<text transform="translate(2434.6,2513.4) scale(1,1.03)" font-size="36.7">90-100%</text>
<rect class="sw" x="2067.4" y="2085.2" width="91" height="39.6" fill="#e0e0e0"/>
<text transform="translate(2172,2116.7) scale(1,1.03)" font-size="36.7">33-40%</text>
<rect class="sw" x="2067.4" y="2151.3" width="91" height="39.6" fill="#a0a0a0"/>
<text transform="translate(2172,2182.8) scale(1,1.03)" font-size="36.7">40-50%</text>
<rect class="sw" x="2138.5" y="2371" width="89" height="36" fill="#fff"/>
<text transform="translate(1626,2125.6) scale(1,1.03)" font-size="48" text-anchor="middle">Leaning</text>
<text transform="translate(1626,2178.5) scale(1,1.03)" font-size="48" text-anchor="middle">Above</text>
<text transform="translate(1626,2347) scale(1,1.03)" font-size="48" text-anchor="middle">Likely</text>
<text transform="translate(1626,2400) scale(1,1.03)" font-size="48" text-anchor="middle">Above</text>
<text transform="translate(2745.5,2125.6) scale(1,1.03)" font-size="48" text-anchor="middle">Leaning</text>
<text transform="translate(2745.5,2178.5) scale(1,1.03)" font-size="48" text-anchor="middle">Below</text>
<text transform="translate(2745.5,2346) scale(1,1.03)" font-size="48" text-anchor="middle">Likely</text>
<text transform="translate(2745.5,2399) scale(1,1.03)" font-size="48" text-anchor="middle">Below</text>
<path d="M1785.0,2085.5 C1766.6,2085.5 1751.5,2098.0 1751.5,2113.2 L1751.5,2107.7 C1751.5,2128.5 1736.2,2141.0 1717.4,2141.0 C1736.2,2141.0 1751.5,2153.5 1751.5,2174.3 L1751.5,2168.8 C1751.5,2184.0 1766.6,2196.5 1785.0,2196.5" fill="none" stroke="#000" stroke-width="2"/>
<path d="M1785.0,2215.0 C1767.4,2215.0 1753.0,2229.4 1753.0,2247.0 L1753.0,2321.3 C1753.0,2348.0 1737.0,2364.0 1717.4,2364.0 C1737.0,2364.0 1753.0,2380.0 1753.0,2406.7 L1753.0,2481.0 C1753.0,2498.6 1767.4,2513.0 1785.0,2513.0" fill="none" stroke="#000" stroke-width="3.2"/>
<path d="M2588.0,2085.5 C2606.4,2085.5 2621.5,2098.0 2621.5,2113.2 L2621.5,2107.7 C2621.5,2128.5 2637.0,2141.0 2656.0,2141.0 C2637.0,2141.0 2621.5,2153.5 2621.5,2174.3 L2621.5,2168.8 C2621.5,2184.0 2606.4,2196.5 2588.0,2196.5" fill="none" stroke="#000" stroke-width="2"/>
<path d="M2588.0,2215.0 C2605.6,2215.0 2620.0,2229.4 2620.0,2247.0 L2620.0,2319.8 C2620.0,2346.8 2636.2,2363.0 2656.0,2363.0 C2636.2,2363.0 2620.0,2379.2 2620.0,2406.2 L2620.0,2479.0 C2620.0,2496.6 2605.6,2511.0 2588.0,2511.0" fill="none" stroke="#000" stroke-width="3.2"/>
<g transform="translate(206,0) scale(0.12202)">
<circle cx="897" cy="848" r="770" fill="#1b93cf" stroke="#0a2f6e" stroke-width="12"/>
<circle cx="897" cy="848" r="598" fill="#fff" stroke="#0a2f6e" stroke-width="12"/>
<path id="sealtop" d="M260,848 A637,637 0 0 1 1534,848" fill="none"/>
<path id="sealbot" d="M167,848 A730,730 0 0 0 1627,848" fill="none"/>
<text font-size="132" style="fill:#fff;stroke:#fff;stroke-width:3" text-anchor="middle"><textPath href="#sealtop" startOffset="50%" textLength="1730" lengthAdjust="spacing">DEPARTMENT OF COMMERCE</textPath></text>
<text font-size="132" style="fill:#fff;stroke:#fff;stroke-width:3" text-anchor="middle"><textPath href="#sealbot" startOffset="50%" textLength="1910" lengthAdjust="spacing">UNITED STATES OF AMERICA</textPath></text>
<path d="M0,-22 L6,-7 22,-7 9,3 14,19 0,9 -14,19 -9,3 -22,-7 -6,-7Z" transform="translate(225,857)" fill="#fff"/>
<path d="M0,-22 L6,-7 22,-7 9,3 14,19 0,9 -14,19 -9,3 -22,-7 -6,-7Z" transform="translate(1585,860)" fill="#fff"/>
<path d="M612,745 H1193 V1195 C1190,1265 1120,1310 897,1408 C680,1310 615,1265 612,1195 Z" fill="#d9a520" stroke="#0a1a4a" stroke-width="14"/>
<path d="M612,745 H1193 V1040 H612 Z" fill="#1b93cf" stroke="#0a1a4a" stroke-width="14"/>
<path d="M560,735 H1245 L1200,790 H610 Z" fill="#1b93cf" stroke="#0a1a4a" stroke-width="14" stroke-linejoin="round"/>
<path d="M620,995 H1185 V1045 H620 Z" fill="#0d2a6e"/>
<path d="M650,915 L760,965 H1090 L1130,945 L1100,1000 H800 L720,960 Z" fill="#0a1a4a"/>
<path d="M650,915 L790,850 L800,960 L740,955 Z" fill="#fff" stroke="#0a1a4a" stroke-width="6"/>
<path d="M820,800 h75 l10,40 h-90z M905,790 h70 l10,45 h-85z M990,810 h55 l10,40 h-68z M810,850 h85 l8,45 h-98z M900,845 h85 l8,48 h-95z M990,860 h65 l10,40 h-78z M805,905 h90 l5,50 h-100z M900,903 h90 l6,52 h-98z M995,910 h70 l15,45 h-88z" fill="#fff" stroke="#0a1a4a" stroke-width="6"/>
<path d="M855,770 v40 M935,765 v30 M1025,790 v30" stroke="#0a1a4a" stroke-width="8"/>
<path d="M872,1080 Q897,1050 922,1080 L930,1330 H866 Z" fill="#4a4a48"/>
<path d="M800,1345 H990 L897,1400 Z" fill="#5a5a58"/>
<path d="M770,1090 H1040" stroke="#f5e6b0" stroke-width="10"/>
<path d="M885,1110 v200 M905,1110 v200" stroke="#b8b8b0" stroke-width="5" stroke-dasharray="14 12"/>
<path d="M700,348 C735,385 790,420 850,470 L885,525 L885,610 L850,620 C800,570 750,490 715,410 Z" fill="#b47a12" stroke="#2a1c05" stroke-width="9" stroke-linejoin="round"/>
<path d="M1113,355 C1080,390 1025,425 965,472 L930,525 L930,610 L965,620 C1015,570 1065,490 1100,415 Z" fill="#b47a12" stroke="#2a1c05" stroke-width="9" stroke-linejoin="round"/>
<path d="M740,400 L840,540 M775,420 L860,530 M1075,405 L975,540 M1040,425 L955,530" stroke="#e3b23c" stroke-width="12"/>
<path d="M872,500 C880,470 940,470 948,500 L965,660 H855 Z" fill="#c6922a" stroke="#2a1c05" stroke-width="8"/>
<path d="M885,452 h48 v48 h-48z" fill="#efe8d2" stroke="#2a1c05" stroke-width="7"/>
<path d="M780,690 H1040" stroke="#2a1c05" stroke-width="24" stroke-linecap="round"/>
</g>
<g transform="translate(2875,0) scale(0.12202)">
<clipPath id="nc"><circle cx="899" cy="859" r="770"/></clipPath>
<circle cx="899" cy="859" r="770" fill="#fff"/>
<g clip-path="url(#nc)">
<path d="M270,410 L200,0 H1600 L1520,395 C1470,410 1400,450 1330,530 C1270,640 1200,780 1130,900 C1050,980 1000,1010 925,1012 C860,1010 800,970 700,900 C600,780 500,640 400,520 C350,470 310,430 270,410 Z" fill="#0b2c8e"/>
<path d="M100,640 C160,640 200,650 300,760 C400,870 500,950 600,1000 C700,1030 800,1050 880,1060 C820,1100 740,1130 670,1150 C690,1172 720,1178 800,1175 C850,1165 900,1140 1000,1090 C1100,1055 1200,1040 1245,1035 C1230,1015 1150,1010 1065,1000 C1150,960 1250,890 1350,800 C1450,690 1530,590 1595,515 L1800,500 V1800 H0 V640 Z" fill="#0f95cf"/>
</g>
<text x="902" y="588" font-size="262" font-weight="bold" style="fill:#fff" text-anchor="middle" textLength="612" lengthAdjust="spacingAndGlyphs">NOAA</text>
</g>
</svg></body></html>
